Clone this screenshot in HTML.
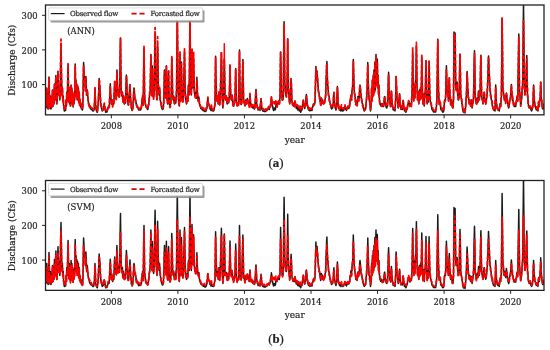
<!DOCTYPE html>
<html><head><meta charset="utf-8"><style>
html,body{margin:0;padding:0;background:#fff;}
body{width:550px;height:350px;overflow:hidden;}
svg{display:block;}
text{fill:#222;stroke:#222;stroke-width:0.2px;}
.tk{font-family:"DejaVu Serif","Liberation Serif",serif;font-size:8.4px;}
.lab{font-family:"DejaVu Serif","Liberation Serif",serif;font-size:9.0px;}
.lg{font-family:"DejaVu Serif","Liberation Serif",serif;font-size:7.0px;letter-spacing:-0.25px;}
.tag{font-family:"DejaVu Serif","Liberation Serif",serif;font-size:8.3px;}
.cap{font-family:"Liberation Serif",serif;font-size:12.8px;}
</style></head><body>
<svg width="550" height="350" viewBox="0 0 550 350">
<g>
<rect x="0" y="0" width="550" height="350" fill="#fff"/>
<clipPath id="c0"><rect x="45.50" y="5.00" width="498.50" height="109.85"/></clipPath>
<g clip-path="url(#c0)" fill="none" stroke-linejoin="round">
<polyline points="45.2,104.0 45.5,94.4 45.7,90.0 46.0,96.2 46.2,107.0 46.5,96.8 46.7,88.0 47.0,96.5 47.2,108.0 47.5,101.6 47.7,95.0 48.0,100.8 48.2,109.0 48.6,92.0 49.0,77.0 49.2,86.7 49.5,100.0 49.8,104.8 50.0,108.5 50.2,103.1 50.5,96.0 50.8,101.8 51.0,109.0 51.2,105.2 51.5,99.0 51.8,102.1 52.0,107.0 52.2,97.7 52.5,90.0 52.8,99.1 53.0,106.0 53.2,96.8 53.5,92.0 53.8,100.2 54.0,104.0 54.2,91.4 54.5,84.0 54.8,91.8 55.0,100.0 55.2,95.3 55.5,88.0 55.9,75.5 56.1,84.0 56.4,98.0 56.6,102.3 56.9,104.0 57.1,100.5 57.4,92.0 57.7,81.4 58.0,71.3 58.3,80.9 58.6,95.0 58.9,88.0 59.2,86.0 59.5,90.6 59.8,100.0 60.0,95.6 60.3,88.0 60.6,67.0 61.0,47.0 61.3,67.0 61.6,82.0 62.0,95.0 62.4,88.0 62.8,100.0 63.2,96.0 63.6,106.0 64.0,108.4 64.3,111.0 64.7,108.9 65.0,108.0 65.3,109.1 65.6,110.5 66.0,100.0 66.4,106.0 66.8,92.0 67.2,100.0 67.6,88.0 67.8,78.0 68.1,65.0 68.5,92.0 68.9,102.0 69.3,88.0 69.7,104.0 70.1,92.0 70.5,106.0 70.9,90.0 71.1,85.0 71.5,100.0 71.9,88.0 72.3,104.0 72.7,92.0 73.1,107.0 73.5,94.0 73.9,104.0 74.3,96.0 74.7,100.0 75.0,84.0 75.2,64.0 75.6,88.0 76.0,80.0 76.4,95.0 76.8,84.0 77.2,100.0 77.6,86.0 78.0,98.0 78.4,88.0 78.8,102.0 79.2,92.0 79.6,104.0 80.0,100.0 80.2,102.0 80.5,107.0 80.8,104.6 81.0,104.0 81.2,106.5 81.5,109.0 81.8,107.8 82.0,108.0 82.2,109.6 82.5,110.0 82.8,106.3 83.0,100.0 83.3,80.2 83.6,62.6 83.9,68.4 84.2,75.0 84.5,77.3 84.8,79.0 85.1,83.2 85.4,90.0 85.7,83.4 85.9,76.4 86.2,83.9 86.6,95.0 86.9,91.3 87.3,90.0 87.7,94.7 88.0,100.0 88.3,101.8 88.5,102.8 88.8,104.0 89.1,104.3 89.3,105.3 89.6,107.0 89.9,106.7 90.2,108.5 90.5,108.5 90.8,108.2 91.2,109.5 91.5,109.5 91.8,109.5 92.2,109.9 92.5,110.5 92.8,110.9 93.2,111.0 93.5,111.0 93.8,110.3 94.0,109.0 94.3,108.0 94.7,99.8 95.0,88.0 95.3,96.1 95.7,108.0 96.0,109.2 96.2,109.5 96.5,111.0 96.8,111.6 97.0,111.8 97.3,112.3 97.6,109.8 97.9,107.2 98.2,104.0 98.5,96.5 98.9,85.3 99.2,78.5 99.5,84.3 99.7,84.6 100.0,90.0 100.3,97.1 100.7,104.0 101.1,106.4 101.4,108.0 101.7,108.5 102.0,110.1 102.3,110.9 102.6,110.4 102.9,109.9 103.2,110.0 103.5,109.1 103.8,107.3 104.0,105.3 104.3,104.4 104.7,106.9 105.0,109.0 105.3,110.1 105.7,112.3 106.0,111.9 106.2,112.0 106.5,112.0 106.8,112.1 107.1,111.5 107.4,110.7 107.6,109.3 107.9,109.0 108.2,108.1 108.6,106.0 108.9,107.4 109.3,107.5 109.6,100.8 110.0,92.1 110.3,83.7 110.6,92.0 110.9,98.0 111.2,99.8 111.4,104.0 111.7,102.9 112.0,100.0 112.3,104.1 112.6,106.0 112.9,104.4 113.2,101.0 113.5,102.0 113.8,104.0 114.1,97.0 114.4,89.8 114.7,81.6 115.0,91.2 115.2,96.0 115.5,92.6 115.7,94.0 116.0,98.4 116.3,99.0 116.6,84.7 116.9,70.0 117.2,80.2 117.6,92.0 117.9,93.7 118.2,96.0 118.5,90.1 118.8,90.0 119.1,91.8 119.4,97.0 119.7,83.2 120.0,68.5 120.2,52.7 120.5,38.0 120.8,66.7 121.2,90.0 121.5,92.9 121.8,96.0 122.1,92.9 122.4,92.0 122.7,98.9 123.0,102.0 123.3,97.8 123.6,96.0 123.9,100.5 124.3,104.0 124.6,102.3 124.9,99.0 125.2,102.3 125.5,103.0 125.8,95.4 126.1,83.6 126.4,75.0 126.8,81.9 127.1,94.0 127.4,94.5 127.7,100.0 128.0,103.3 128.3,105.0 128.6,104.6 128.9,101.0 129.2,96.0 129.4,92.3 129.7,89.9 130.0,84.4 130.3,93.1 130.7,100.0 131.1,103.2 131.4,108.0 131.7,109.1 131.9,109.4 132.2,110.5 132.6,109.0 132.9,108.0 133.2,103.1 133.4,99.2 133.7,90.9 134.0,88.0 134.3,89.1 134.7,96.0 135.1,98.7 135.4,100.0 135.8,100.2 136.1,104.0 136.4,103.3 136.7,104.6 137.0,106.0 137.3,107.0 137.6,106.4 137.9,108.0 138.2,107.9 138.5,110.0 138.8,110.0 139.1,109.6 139.4,109.9 139.7,109.0 140.0,108.9 140.3,109.6 140.6,110.0 140.9,109.1 141.1,108.1 141.4,108.0 141.8,103.5 142.1,100.0 142.3,100.5 142.6,96.0 142.9,101.6 143.2,105.0 143.5,86.0 143.7,67.8 144.0,50.0 144.3,71.6 144.6,96.0 144.9,99.6 145.3,103.0 145.7,105.2 146.0,106.0 146.3,107.1 146.5,107.3 146.8,108.0 147.1,107.5 147.4,109.4 147.6,108.9 147.9,109.4 148.2,107.4 148.5,104.5 148.8,104.0 149.2,98.4 149.5,96.0 149.8,95.2 150.2,90.0 150.6,72.3 150.9,54.4 151.2,71.1 151.5,85.0 151.8,87.9 152.0,95.0 152.4,66.0 152.7,77.0 153.0,90.0 153.3,96.0 153.6,98.0 153.9,94.9 154.3,88.0 154.6,68.7 154.8,49.7 155.1,34.8 155.4,59.2 155.8,80.0 156.1,84.0 156.4,92.0 156.7,97.7 157.0,100.0 157.3,74.0 157.6,45.7 157.9,63.4 158.3,85.0 158.7,87.5 159.0,95.0 159.3,94.1 159.6,88.0 159.9,94.6 160.3,100.0 160.7,102.5 161.0,104.0 161.3,105.9 161.7,108.0 162.0,107.8 162.2,109.1 162.5,109.4 162.8,108.5 163.0,109.0 163.3,108.0 163.7,102.4 164.0,95.0 164.2,79.7 164.5,70.0 164.8,82.6 165.2,90.0 165.5,91.2 165.8,98.0 166.1,79.4 166.4,65.8 166.7,81.7 167.0,100.0 167.3,100.7 167.6,104.0 167.9,91.4 168.3,81.1 168.6,71.0 168.9,88.9 169.3,104.0 169.7,105.0 170.0,106.5 170.3,104.6 170.7,104.0 170.9,99.5 171.2,95.0 171.5,75.9 171.8,58.0 172.2,72.9 172.5,90.0 172.8,97.4 173.2,100.0 173.5,98.3 173.8,96.0 174.2,102.1 174.5,104.0 174.8,102.1 175.2,98.0 175.5,100.8 175.8,103.0 176.1,97.5 176.3,95.5 176.6,90.0 176.9,52.2 177.3,15.0 177.7,51.3 178.0,85.0 178.3,91.9 178.6,100.0 178.9,103.0 179.3,106.0 179.7,77.3 180.0,54.4 180.3,78.6 180.7,100.0 181.1,78.2 181.4,62.0 181.8,79.6 182.1,95.0 182.4,98.9 182.8,102.0 183.2,100.3 183.5,96.0 183.8,80.1 184.2,67.8 184.5,52.0 184.8,70.2 185.2,92.0 185.5,96.2 185.8,100.0 186.2,101.4 186.5,104.0 186.8,103.0 187.2,98.0 187.6,101.3 187.9,100.0 188.2,90.8 188.5,85.0 188.8,90.4 189.2,95.0 189.5,67.3 189.7,44.5 190.0,15.0 190.3,52.5 190.7,85.0 191.0,90.5 191.3,95.0 191.7,73.3 192.0,49.0 192.3,63.1 192.5,74.1 192.8,88.0 193.1,80.9 193.3,71.3 193.6,59.3 193.9,73.6 194.3,90.0 194.7,94.5 195.0,96.0 195.3,92.6 195.7,95.0 196.1,98.3 196.4,98.0 196.7,88.0 196.9,77.3 197.2,89.4 197.6,96.0 197.9,97.3 198.3,100.0 198.6,99.1 198.9,97.0 199.2,99.7 199.5,104.0 199.8,105.8 200.2,106.0 200.5,106.9 200.7,108.4 201.0,108.0 201.3,107.6 201.7,108.4 202.0,109.5 202.3,109.2 202.7,109.7 203.0,110.5 203.3,110.8 203.7,110.7 204.0,110.0 204.3,110.5 204.7,111.4 205.0,111.5 205.3,111.6 205.7,111.4 206.0,111.0 206.3,110.3 206.7,108.5 207.0,108.0 207.3,104.8 207.6,101.0 207.9,98.0 208.2,102.9 208.5,104.0 208.8,104.1 209.2,106.0 209.5,106.3 209.7,108.3 210.0,109.0 210.3,109.0 210.7,109.5 211.0,110.5 211.4,106.6 211.7,108.3 212.0,110.0 212.3,110.7 212.7,110.8 213.0,111.0 213.3,111.1 213.7,110.4 214.0,110.5 214.3,107.9 214.7,106.0 215.0,104.0 215.3,83.1 215.6,56.3 215.9,74.5 216.3,90.0 216.7,97.7 217.0,100.0 217.3,98.2 217.7,96.0 218.0,100.2 218.3,104.0 218.7,100.5 219.0,92.0 219.3,97.0 219.7,105.0 220.0,101.3 220.3,95.0 220.6,86.2 220.9,76.0 221.1,64.9 221.4,52.8 221.7,65.1 221.9,82.6 222.2,96.0 222.6,103.6 222.9,108.0 223.2,104.2 223.6,100.0 223.9,78.4 224.3,58.5 224.7,79.4 225.0,95.0 225.3,97.8 225.7,100.0 226.1,98.1 226.4,97.0 226.8,101.0 227.1,104.0 227.4,102.3 227.8,98.0 228.1,98.4 228.3,99.4 228.6,103.0 228.9,100.1 229.3,97.0 229.7,83.9 230.0,65.6 230.3,81.9 230.7,96.0 231.1,98.7 231.4,100.0 231.8,98.2 232.1,95.0 232.4,98.0 232.6,102.0 232.9,104.0 233.2,104.3 233.6,106.0 233.9,105.3 234.3,102.0 234.7,100.1 235.0,100.0 235.3,86.9 235.7,68.4 236.1,87.8 236.4,102.0 236.8,102.6 237.1,106.0 237.4,104.9 237.6,104.8 237.9,103.0 238.2,103.3 238.6,104.0 238.9,86.0 239.2,69.8 239.5,49.9 239.8,76.2 240.2,100.0 240.5,103.2 240.7,101.4 241.0,104.0 241.3,104.5 241.7,102.0 242.0,93.9 242.3,81.5 242.6,72.7 242.9,59.4 243.2,78.2 243.6,100.0 243.9,103.0 244.3,103.0 244.7,105.3 245.0,106.0 245.3,103.4 245.7,100.0 246.1,100.4 246.4,104.0 246.7,100.8 247.0,101.0 247.3,98.6 247.6,99.2 247.9,100.0 248.2,103.0 248.6,104.0 248.9,104.7 249.3,106.0 249.7,101.4 250.0,94.4 250.3,99.8 250.7,104.0 251.1,104.7 251.4,106.0 251.8,106.5 252.1,105.0 252.4,104.8 252.6,106.9 252.9,108.0 253.2,107.7 253.6,106.0 253.9,106.7 254.3,109.0 254.7,108.4 255.0,107.0 255.3,100.4 255.7,92.4 256.0,89.4 256.4,96.6 256.7,104.0 257.0,106.1 257.4,108.0 257.8,108.3 258.1,110.0 258.4,109.9 258.7,109.5 259.0,109.5 259.3,109.2 259.7,109.8 260.0,110.5 260.3,105.6 260.7,102.8 261.0,98.7 261.4,101.8 261.7,108.0 262.0,109.7 262.4,110.0 262.7,110.7 262.9,111.1 263.2,111.0 263.5,110.6 263.7,111.1 264.0,110.5 264.3,111.4 264.7,111.5 265.0,111.6 265.3,111.2 265.7,111.4 266.0,111.0 266.3,110.9 266.7,110.6 267.0,110.5 267.3,109.8 267.7,108.9 268.0,109.0 268.3,107.8 268.6,108.0 269.0,108.1 269.3,109.5 269.6,108.2 270.0,107.0 270.4,105.9 270.7,104.0 271.0,101.8 271.4,97.3 271.8,99.3 272.1,105.0 272.4,106.8 272.6,106.0 272.9,108.0 273.2,109.3 273.6,110.5 274.0,109.6 274.3,108.0 274.6,109.2 275.0,110.0 275.4,109.3 275.7,107.0 276.0,105.1 276.4,104.0 276.8,105.2 277.1,106.0 277.4,103.8 277.6,104.2 277.9,103.0 278.2,103.2 278.6,100.9 279.0,101.3 279.3,104.0 279.6,100.0 280.0,98.0 280.3,76.2 280.6,52.0 281.0,69.5 281.3,90.0 281.6,91.6 281.9,96.0 282.2,100.2 282.6,100.0 283.0,99.7 283.3,94.0 283.6,67.8 283.8,48.2 284.1,21.7 284.5,53.7 284.8,85.0 285.1,85.1 285.4,91.3 285.7,93.7 286.0,95.7 286.4,96.0 286.7,90.2 287.0,90.0 287.4,65.9 287.7,38.8 288.0,65.3 288.4,88.0 288.7,90.4 289.0,98.0 289.4,101.6 289.7,104.0 290.0,101.8 290.3,100.0 290.6,91.3 290.8,85.6 291.1,78.7 291.5,87.3 291.8,100.0 292.1,101.4 292.5,104.0 292.9,105.4 293.2,106.0 293.5,104.4 293.9,103.0 294.2,104.7 294.5,106.0 294.8,103.6 295.0,100.9 295.4,104.5 295.7,106.0 296.0,107.0 296.4,108.6 296.8,108.0 297.1,106.0 297.4,106.4 297.6,108.5 297.9,110.0 298.2,108.2 298.6,107.0 299.0,108.9 299.3,111.0 299.6,110.0 300.0,108.0 300.4,110.2 300.7,112.3 301.0,111.2 301.4,109.0 301.7,110.0 302.0,110.0 302.3,106.7 302.6,105.0 303.0,101.8 303.3,100.0 303.6,101.3 304.0,106.0 304.4,107.8 304.7,108.6 305.0,106.3 305.4,106.0 305.7,103.6 306.1,96.7 306.4,94.4 306.8,98.8 307.1,104.0 307.4,104.1 307.6,106.2 307.9,108.0 308.2,108.8 308.6,110.0 309.0,108.6 309.3,108.6 309.6,110.1 310.0,110.9 310.3,110.7 310.7,109.8 311.0,109.5 311.3,110.3 311.7,109.6 312.0,110.5 312.3,108.3 312.6,107.2 312.9,106.0 313.2,106.0 313.6,103.7 314.0,105.1 314.3,105.0 314.6,104.1 315.0,102.0 315.3,90.6 315.6,80.2 315.9,66.6 316.2,72.8 316.6,80.0 316.9,72.7 317.1,71.0 317.4,77.5 317.6,78.5 317.9,85.0 318.2,87.8 318.6,92.0 319.0,93.1 319.3,96.0 319.6,96.1 320.0,100.0 320.4,102.0 320.7,105.0 321.0,100.2 321.4,98.0 321.8,101.0 322.1,103.0 322.4,102.9 322.6,99.7 322.9,101.0 323.2,102.3 323.6,104.0 324.0,103.7 324.3,103.0 324.6,103.0 325.0,100.0 325.4,97.5 325.7,95.0 326.0,82.5 326.4,75.0 326.6,65.6 326.9,61.6 327.2,74.0 327.5,82.0 327.9,87.7 328.2,90.0 328.5,95.2 328.9,96.0 329.2,96.8 329.6,100.0 330.0,102.6 330.3,104.0 330.6,104.4 331.0,107.0 331.4,108.6 331.7,109.0 332.0,108.2 332.4,108.0 332.7,108.0 332.9,105.9 333.2,105.0 333.5,96.4 333.9,92.3 334.2,100.2 334.6,104.0 335.0,106.3 335.3,108.0 335.6,108.7 336.0,110.0 336.4,107.1 336.7,106.0 337.0,95.6 337.4,86.6 337.8,93.2 338.1,104.0 338.5,106.1 338.8,108.0 339.1,108.4 339.5,110.0 339.9,109.0 340.2,109.0 340.5,110.3 340.7,110.5 341.0,111.0 341.2,108.8 341.5,107.3 341.9,109.3 342.2,110.0 342.5,110.4 342.7,111.1 343.0,110.9 343.3,110.2 343.7,110.2 344.0,109.0 344.3,108.5 344.7,106.4 345.0,106.6 345.4,107.6 345.7,109.5 346.0,109.5 346.2,109.8 346.5,110.5 346.8,109.3 347.2,108.4 347.5,108.0 347.8,107.8 348.0,105.9 348.3,106.7 348.5,108.5 348.8,108.6 349.1,107.1 349.5,107.0 349.8,104.9 350.0,100.5 350.3,100.0 350.6,99.8 351.0,95.0 351.2,94.9 351.5,100.0 351.8,94.3 352.1,90.0 352.4,89.3 352.7,85.0 353.0,75.2 353.3,59.5 353.6,69.4 354.0,85.0 354.3,91.4 354.6,94.0 354.9,96.1 355.2,98.0 355.5,99.1 355.8,104.0 356.1,103.5 356.4,101.0 356.8,101.6 357.1,105.0 357.4,102.6 357.6,100.7 357.9,96.6 358.2,99.6 358.6,101.0 359.0,98.4 359.3,97.0 359.6,88.2 360.0,85.1 360.4,88.2 360.7,92.0 361.0,97.5 361.4,98.0 361.8,99.8 362.1,103.0 362.4,103.2 362.6,104.0 362.9,106.0 363.2,107.7 363.6,109.4 364.0,110.2 364.3,110.9 364.6,110.0 365.0,110.0 365.4,109.4 365.7,109.0 366.0,105.0 366.4,100.0 366.8,97.8 367.1,90.0 367.5,75.8 367.8,62.5 368.1,75.9 368.5,90.0 368.9,94.8 369.2,100.0 369.5,100.9 369.9,104.0 370.2,107.2 370.5,110.9 370.9,107.8 371.2,104.0 371.6,88.0 372.0,100.0 372.4,80.0 372.8,97.0 373.2,75.0 373.6,95.0 374.0,70.0 374.2,80.4 374.5,92.0 374.9,62.0 375.3,90.0 375.7,68.0 376.0,54.4 376.4,85.0 376.8,65.0 377.1,62.5 377.3,59.0 377.7,88.0 378.1,75.0 378.4,87.0 378.6,95.0 379.0,85.0 379.2,95.5 379.5,100.0 379.8,103.5 380.0,104.0 380.4,104.5 380.7,105.7 381.0,103.4 381.4,104.0 381.7,105.6 382.0,106.6 382.3,106.0 382.5,104.8 382.8,105.0 383.1,104.3 383.3,105.6 383.6,106.6 383.9,105.0 384.1,103.4 384.4,97.2 384.7,96.6 385.0,102.0 385.4,104.0 385.8,104.3 386.1,107.0 386.5,107.9 386.8,108.0 387.1,105.9 387.5,106.0 387.8,97.2 388.1,91.4 388.3,80.1 388.6,72.3 389.0,87.2 389.3,97.0 389.6,101.4 390.0,104.0 390.4,105.6 390.7,106.6 391.0,97.1 391.4,90.9 391.8,96.6 392.1,104.0 392.4,105.1 392.6,106.9 392.9,108.0 393.2,109.8 393.6,110.0 394.0,109.2 394.3,109.0 394.6,110.0 395.0,110.9 395.3,106.6 395.6,100.0 395.9,87.4 396.1,76.6 396.5,86.1 396.8,94.0 397.1,98.4 397.5,100.0 397.9,104.4 398.2,108.0 398.5,106.6 398.9,104.0 399.2,97.4 399.6,93.7 400.0,101.9 400.3,106.0 400.6,107.0 401.0,109.4 401.4,108.8 401.7,108.0 402.0,108.4 402.4,109.4 402.8,105.5 403.1,100.9 403.5,102.7 403.8,106.0 404.1,108.3 404.5,110.9 404.9,110.2 405.2,109.0 405.5,110.4 405.9,112.3 406.2,111.4 406.6,110.0 407.0,109.3 407.3,109.0 407.6,105.6 407.9,104.0 408.2,103.2 408.6,101.6 409.0,101.6 409.3,104.0 409.6,105.1 410.0,106.6 410.4,105.0 410.7,104.0 411.0,103.2 411.4,105.0 411.7,100.9 412.0,95.0 412.4,75.1 412.7,53.0 413.0,72.2 413.3,88.0 413.6,94.3 413.8,100.0 414.1,92.8 414.3,85.0 414.6,89.5 414.9,98.0 415.2,88.2 415.5,82.0 415.8,76.9 416.0,75.0 416.4,46.2 416.7,65.8 417.0,85.0 417.3,94.4 417.6,100.0 417.9,95.2 418.2,92.0 418.5,100.0 418.8,104.0 419.1,98.3 419.4,90.0 419.7,96.3 420.0,100.0 420.3,93.0 420.6,88.0 420.9,90.7 421.2,98.0 421.5,80.5 421.8,57.5 422.1,76.9 422.4,92.0 422.7,97.5 423.0,104.0 423.3,100.7 423.6,94.0 423.9,101.8 424.2,106.0 424.5,100.3 424.8,96.0 425.1,93.0 425.4,90.0 425.7,74.5 426.0,61.1 426.3,77.7 426.6,92.0 426.9,100.1 427.2,104.0 427.5,101.7 427.8,95.0 428.1,99.7 428.4,102.0 428.8,80.5 429.1,61.3 429.4,78.9 429.7,92.0 429.9,98.8 430.2,100.0 430.6,103.0 431.0,104.0 431.4,105.6 431.7,108.0 432.0,109.7 432.4,110.0 432.8,110.5 433.1,111.0 433.4,111.7 433.7,112.1 434.0,112.0 434.3,112.1 434.7,111.8 435.0,111.5 435.4,111.5 435.7,112.0 436.0,109.4 436.3,108.0 436.6,104.3 436.9,100.0 437.2,81.0 437.5,62.1 437.8,39.3 438.1,64.8 438.5,90.0 438.9,98.1 439.2,104.0 439.5,103.8 439.7,101.6 440.0,102.0 440.4,105.4 440.7,108.0 441.0,109.8 441.4,110.0 441.8,110.1 442.1,111.0 442.4,111.6 442.6,112.0 442.9,112.3 443.2,111.9 443.6,111.6 444.0,108.4 444.3,104.0 444.6,100.1 445.0,100.0 445.4,100.0 445.7,96.0 446.0,82.8 446.4,65.7 446.8,78.7 447.1,92.0 447.5,90.6 447.8,94.0 448.1,96.7 448.5,100.0 448.8,93.2 449.0,83.9 449.3,78.0 449.6,86.9 450.0,96.0 450.4,101.2 450.7,104.0 451.0,103.6 451.4,100.0 451.8,103.2 452.1,106.0 452.4,107.4 452.6,106.4 452.9,108.0 453.2,105.1 453.5,100.0 453.8,68.5 454.0,32.0 454.3,34.0 454.6,40.0 454.9,38.5 455.1,33.0 455.4,61.1 455.7,85.0 456.0,89.8 456.4,90.0 456.8,86.1 457.1,82.0 457.5,89.6 457.8,96.0 458.1,95.8 458.3,99.7 458.6,100.0 459.0,97.0 459.3,95.0 459.6,71.6 460.0,53.9 460.4,72.8 460.7,96.0 461.0,97.4 461.4,100.0 461.8,103.5 462.1,104.0 462.4,106.2 462.6,108.8 462.9,110.0 463.2,111.6 463.6,112.5 464.0,111.4 464.3,111.0 464.6,112.1 465.0,113.0 465.4,109.3 465.7,106.0 466.0,101.0 466.4,96.0 466.8,83.5 467.1,71.6 467.5,80.7 467.8,90.0 468.1,90.3 468.3,97.3 468.6,98.0 469.0,101.0 469.3,104.0 469.6,102.6 470.0,100.0 470.4,102.9 470.7,106.0 471.0,102.4 471.4,101.0 471.8,104.6 472.1,108.0 472.4,105.1 472.6,105.1 472.9,102.0 473.2,100.6 473.6,96.0 473.9,78.8 474.2,63.3 474.5,50.8 474.9,70.8 475.2,96.0 475.5,97.5 475.9,100.0 476.2,103.7 476.6,104.0 477.0,101.2 477.3,98.0 477.6,98.9 478.0,102.0 478.3,94.9 478.6,90.9 479.0,93.1 479.3,100.0 479.6,96.2 480.0,96.0 480.3,84.3 480.6,66.7 480.9,55.3 481.2,76.8 481.6,94.0 482.0,98.8 482.3,100.0 482.6,100.6 483.0,104.0 483.3,101.2 483.6,98.0 484.0,92.2 484.3,92.3 484.6,98.2 485.0,100.0 485.4,102.1 485.7,103.7 486.0,102.8 486.4,100.0 486.8,96.9 487.1,94.0 487.5,88.1 487.8,80.0 488.1,70.5 488.5,55.9 488.8,62.6 489.0,70.9 489.3,75.0 489.6,81.6 490.0,90.0 490.4,90.6 490.7,96.0 491.0,95.5 491.4,100.0 491.8,101.0 492.1,104.0 492.4,106.3 492.6,106.2 492.9,108.0 493.2,108.6 493.6,110.0 494.0,109.5 494.3,109.0 494.6,110.5 495.0,110.9 495.4,98.0 495.7,85.1 496.0,93.6 496.4,104.0 496.8,105.3 497.1,108.6 497.4,109.2 497.6,109.1 497.9,110.0 498.2,109.5 498.6,109.4 499.0,110.0 499.3,110.9 499.6,107.9 500.0,103.7 500.4,104.1 500.7,106.0 501.0,102.8 501.4,96.0 501.8,58.4 502.1,17.9 502.5,51.3 502.8,85.0 503.1,90.3 503.3,90.2 503.6,94.0 504.0,96.4 504.3,100.0 504.6,96.1 505.0,96.0 505.4,100.3 505.7,102.0 506.0,97.0 506.4,93.0 506.8,96.5 507.1,100.0 507.4,101.2 507.6,103.2 507.9,104.0 508.2,105.7 508.6,108.0 509.0,107.1 509.3,104.0 509.6,101.7 510.0,100.0 510.4,97.3 510.7,96.0 511.0,89.6 511.4,84.4 511.8,91.8 512.1,96.0 512.4,100.0 512.6,100.5 512.9,100.0 513.2,102.4 513.6,105.0 514.0,105.3 514.3,106.6 514.6,105.1 515.0,104.0 515.4,104.9 515.7,106.6 516.0,103.5 516.4,102.0 516.8,97.8 517.1,96.6 517.5,100.6 517.8,100.0 518.1,78.0 518.5,53.6 518.8,33.9 519.1,61.3 519.5,90.0 519.8,93.3 520.1,98.0 520.4,101.6 520.7,105.0 521.0,104.3 521.4,100.0 521.8,97.9 522.1,90.0 522.5,85.4 522.8,80.0 523.1,41.7 523.5,2.0 523.9,42.1 524.2,80.0 524.5,87.5 524.9,95.0 525.2,93.3 525.4,90.6 525.7,90.0 526.0,82.5 526.2,70.4 526.5,63.1 526.8,55.6 527.1,77.6 527.5,95.0 527.9,97.7 528.2,103.0 528.5,105.9 528.9,106.0 529.2,108.1 529.6,108.0 530.0,107.7 530.3,107.0 530.6,107.7 531.0,110.0 531.4,110.0 531.7,110.9 532.0,109.6 532.4,109.0 532.7,106.6 533.0,105.0 533.3,92.7 533.6,85.1 534.0,94.3 534.3,100.0 534.6,102.5 535.0,106.0 535.4,106.7 535.7,108.6 536.0,108.6 536.4,110.0 536.8,109.3 537.1,109.0 537.4,108.9 537.6,109.8 537.9,110.9 538.2,106.8 538.6,102.3 539.0,105.5 539.3,106.0 539.6,101.9 540.0,100.0 540.4,92.6 540.7,82.3 541.0,89.3 541.4,100.0 541.8,101.6 542.1,106.6 542.5,108.6 542.8,109.0 543.1,109.0 543.3,106.8 543.6,107.0 544.0,105.2 544.3,105.0" stroke="#1a1a1a" stroke-width="1.50"/>
<polyline points="45.2,102.9 45.5,97.6 45.7,91.8 46.0,100.5 46.2,106.1 46.5,99.9 46.7,88.8 47.0,97.0 47.2,106.3 47.5,101.9 47.7,96.4 48.0,101.8 48.2,108.6 48.6,93.0 49.0,78.0 49.2,88.2 49.5,100.8 49.8,104.0 50.0,107.2 50.2,102.5 50.5,97.1 50.8,102.1 51.0,106.6 51.2,105.2 51.5,100.6 51.8,102.5 52.0,106.6 52.2,99.4 52.5,90.8 52.8,101.4 53.0,107.3 53.2,100.9 53.5,92.3 53.8,98.1 54.0,103.1 54.2,93.1 54.5,84.7 54.8,91.1 55.0,98.6 55.2,95.5 55.5,87.2 55.9,76.6 56.1,89.7 56.4,98.0 56.6,101.3 56.9,103.2 57.1,99.3 57.4,91.2 57.7,84.1 58.0,71.9 58.3,85.5 58.6,94.9 58.9,89.9 59.2,86.2 59.5,92.2 59.8,98.6 60.0,95.6 60.3,89.0 60.6,63.3 61.0,39.1 61.3,62.1 61.6,82.2 62.0,95.4 62.4,87.9 62.8,101.5 63.2,97.6 63.6,104.9 64.0,106.9 64.3,109.1 64.7,107.0 65.0,105.6 65.3,106.9 65.6,108.4 66.0,100.5 66.4,105.4 66.8,92.9 67.2,101.1 67.6,89.0 67.8,74.0 68.1,63.6 68.5,92.0 68.9,102.3 69.3,87.4 69.7,103.2 70.1,93.5 70.5,105.7 70.9,89.0 71.1,86.1 71.5,100.6 71.9,89.3 72.3,103.6 72.7,92.5 73.1,105.0 73.5,94.6 73.9,103.7 74.3,96.4 74.7,98.6 75.0,81.4 75.2,66.0 75.6,86.6 76.0,81.7 76.4,96.4 76.8,85.2 77.2,99.7 77.6,85.9 78.0,98.0 78.4,90.2 78.8,102.8 79.2,92.8 79.6,105.1 80.0,99.2 80.2,101.6 80.5,104.6 80.8,102.9 81.0,104.2 81.2,105.3 81.5,108.1 81.8,106.3 82.0,105.6 82.2,107.6 82.5,108.0 82.8,104.7 83.0,101.0 83.3,82.0 83.6,65.5 83.9,73.8 84.2,76.2 84.5,76.5 84.8,79.7 85.1,85.4 85.4,90.9 85.7,85.8 85.9,77.7 86.2,87.6 86.6,95.2 86.9,92.4 87.3,90.5 87.7,96.2 88.0,98.7 88.3,100.8 88.5,103.7 88.8,105.1 89.1,105.5 89.3,107.1 89.6,106.3 89.9,107.1 90.2,105.9 90.5,107.1 90.8,106.8 91.2,108.9 91.5,108.4 91.8,108.1 92.2,107.9 92.5,108.8 92.8,108.7 93.2,109.4 93.5,109.7 93.8,109.6 94.0,107.8 94.3,107.2 94.7,98.7 95.0,87.8 95.3,98.7 95.7,105.8 96.0,105.9 96.2,108.1 96.5,108.9 96.8,110.4 97.0,110.7 97.3,111.4 97.6,109.4 97.9,106.8 98.2,105.0 98.5,99.2 98.9,91.3 99.2,80.2 99.5,80.7 99.7,86.2 100.0,88.7 100.3,95.2 100.7,102.6 101.1,104.8 101.4,106.0 101.7,106.7 102.0,108.5 102.3,110.4 102.6,109.6 102.9,109.4 103.2,108.9 103.5,108.1 103.8,106.9 104.0,105.4 104.3,103.1 104.7,105.8 105.0,107.5 105.3,108.9 105.7,111.4 106.0,111.1 106.2,111.1 106.5,110.7 106.8,110.2 107.1,110.2 107.4,109.4 107.6,109.3 107.9,107.8 108.2,105.9 108.6,105.8 108.9,107.2 109.3,107.0 109.6,98.2 110.0,92.2 110.3,85.9 110.6,94.4 110.9,98.0 111.2,99.3 111.4,103.1 111.7,101.8 112.0,100.3 112.3,103.4 112.6,107.0 112.9,104.6 113.2,99.6 113.5,103.1 113.8,102.6 114.1,94.3 114.4,88.5 114.7,81.6 115.0,91.5 115.2,96.7 115.5,95.4 115.7,93.5 116.0,95.0 116.3,99.6 116.6,87.4 116.9,72.1 117.2,81.1 117.6,92.1 117.9,93.6 118.2,95.2 118.5,90.7 118.8,92.1 119.1,98.0 119.4,97.9 119.7,84.0 120.0,70.8 120.2,56.2 120.5,38.5 120.8,62.9 121.2,90.0 121.5,92.9 121.8,95.2 122.1,93.8 122.4,93.1 122.7,98.8 123.0,101.7 123.3,100.8 123.6,96.7 123.9,98.9 124.3,103.5 124.6,100.7 124.9,99.8 125.2,101.6 125.5,101.7 125.8,92.5 126.1,82.2 126.4,75.7 126.8,83.7 127.1,95.4 127.4,98.6 127.7,101.1 128.0,103.1 128.3,104.4 128.6,104.8 128.9,102.1 129.2,97.9 129.4,94.1 129.7,87.0 130.0,84.8 130.3,92.5 130.7,101.3 131.1,103.4 131.4,106.8 131.7,108.3 131.9,108.7 132.2,110.2 132.6,108.4 132.9,107.6 133.2,102.7 133.4,98.5 133.7,93.3 134.0,89.8 134.3,94.2 134.7,97.4 135.1,97.2 135.4,100.2 135.8,103.1 136.1,103.0 136.4,105.0 136.7,105.8 137.0,107.1 137.3,105.8 137.6,106.0 137.9,106.2 138.2,107.5 138.5,108.2 138.8,108.9 139.1,109.2 139.4,109.1 139.7,108.2 140.0,108.1 140.3,108.6 140.6,108.7 140.9,108.0 141.1,107.2 141.4,107.5 141.8,102.8 142.1,100.5 142.3,97.0 142.6,95.9 142.9,98.6 143.2,105.0 143.5,85.7 143.7,67.2 144.0,46.4 144.3,71.3 144.6,95.5 144.9,100.6 145.3,104.1 145.7,104.9 146.0,107.2 146.3,106.6 146.5,107.4 146.8,107.3 147.1,108.0 147.4,106.9 147.6,105.9 147.9,106.9 148.2,105.0 148.5,105.0 148.8,104.8 149.2,100.7 149.5,95.5 149.8,89.8 150.2,89.1 150.6,70.7 150.9,55.6 151.2,71.6 151.5,85.5 151.8,93.7 152.0,96.0 152.4,69.0 152.7,78.3 153.0,89.5 153.3,94.9 153.6,99.1 153.9,94.0 154.3,88.6 154.6,65.4 154.8,46.9 155.1,27.6 155.4,51.6 155.8,80.0 156.1,85.2 156.4,93.5 156.7,97.9 157.0,99.2 157.3,69.0 157.6,36.7 157.9,58.4 158.3,85.7 158.7,87.2 159.0,93.8 159.3,92.1 159.6,87.8 159.9,92.1 160.3,101.2 160.7,101.5 161.0,103.1 161.3,104.1 161.7,106.4 162.0,106.0 162.2,106.7 162.5,108.3 162.8,107.2 163.0,107.3 163.3,107.1 163.7,103.3 164.0,96.1 164.2,84.8 164.5,71.8 164.8,80.0 165.2,91.4 165.5,96.3 165.8,99.2 166.1,81.4 166.4,66.4 166.7,83.4 167.0,100.2 167.3,100.8 167.6,102.8 167.9,94.9 168.3,80.8 168.6,71.1 168.9,88.7 169.3,102.7 169.7,105.6 170.0,107.6 170.3,107.1 170.7,104.9 170.9,100.9 171.2,96.0 171.5,78.6 171.8,56.7 172.2,72.5 172.5,89.5 172.8,96.0 173.2,100.3 173.5,99.4 173.8,97.3 174.2,100.6 174.5,103.6 174.8,101.4 175.2,98.6 175.5,100.5 175.8,102.2 176.1,97.1 176.3,95.6 176.6,88.7 176.9,56.2 177.3,22.0 177.7,53.4 178.0,84.3 178.3,90.1 178.6,101.2 178.9,103.7 179.3,106.2 179.7,76.5 180.0,50.7 180.3,74.3 180.7,101.3 181.1,82.1 181.4,63.7 181.8,79.3 182.1,94.3 182.4,97.4 182.8,102.9 183.2,98.9 183.5,97.0 183.8,81.1 184.2,64.8 184.5,48.9 184.8,69.1 185.2,90.5 185.5,93.2 185.8,100.5 186.2,101.1 186.5,102.8 186.8,100.7 187.2,97.2 187.6,99.4 187.9,101.2 188.2,93.1 188.5,84.5 188.8,91.4 189.2,94.2 189.5,71.0 189.7,46.1 190.0,20.4 190.3,50.6 190.7,86.5 191.0,89.5 191.3,94.8 191.7,73.4 192.0,49.8 192.3,60.1 192.5,77.0 192.8,86.8 193.1,72.9 193.3,65.6 193.6,51.6 193.9,68.6 194.3,89.0 194.7,94.2 195.0,95.2 195.3,97.8 195.7,96.3 196.1,95.6 196.4,96.8 196.7,90.6 196.9,79.8 197.2,85.7 197.6,95.6 197.9,100.3 198.3,101.4 198.6,99.5 198.9,98.7 199.2,100.8 199.5,103.4 199.8,103.1 200.2,105.3 200.5,106.3 200.7,106.2 201.0,107.5 201.3,108.3 201.7,109.1 202.0,109.1 202.3,108.9 202.7,107.5 203.0,108.0 203.3,109.0 203.7,109.0 204.0,108.4 204.3,109.3 204.7,109.6 205.0,110.5 205.3,110.0 205.7,109.9 206.0,108.7 206.3,107.6 206.7,107.3 207.0,105.6 207.3,103.1 207.6,99.7 207.9,97.2 208.2,102.1 208.5,103.1 208.8,104.5 209.2,106.4 209.5,107.0 209.7,106.1 210.0,107.5 210.3,107.9 210.7,107.5 211.0,108.7 211.4,105.1 211.7,107.6 212.0,109.2 212.3,108.7 212.7,109.2 213.0,110.1 213.3,109.3 213.7,109.0 214.0,109.2 214.3,107.6 214.7,105.7 215.0,104.5 215.3,79.9 215.6,58.0 215.9,77.1 216.3,90.4 216.7,98.2 217.0,101.3 217.3,99.5 217.7,96.2 218.0,101.2 218.3,103.4 218.7,99.4 219.0,92.1 219.3,97.0 219.7,104.5 220.0,101.6 220.3,96.0 220.6,83.4 220.9,74.3 221.1,62.1 221.4,51.9 221.7,64.9 221.9,83.7 222.2,97.2 222.6,103.7 222.9,107.0 223.2,102.9 223.6,100.1 223.9,82.7 224.3,60.7 224.7,77.1 225.0,95.3 225.3,98.1 225.7,99.2 226.1,100.2 226.4,96.0 226.8,100.9 227.1,103.2 227.4,98.2 227.8,97.1 228.1,98.8 228.3,100.6 228.6,103.2 228.9,98.5 229.3,95.7 229.7,82.3 230.0,65.0 230.3,79.5 230.7,94.7 231.1,98.6 231.4,100.4 231.8,98.4 232.1,94.9 232.4,98.3 232.6,99.8 232.9,104.9 233.2,105.9 233.6,106.0 233.9,105.7 234.3,103.1 234.7,99.7 235.0,99.0 235.3,85.0 235.7,69.3 236.1,85.6 236.4,102.0 236.8,104.0 237.1,106.9 237.4,105.8 237.6,105.1 237.9,101.7 238.2,101.9 238.6,105.3 238.9,89.9 239.2,69.1 239.5,52.0 239.8,77.5 240.2,99.0 240.5,99.6 240.7,103.7 241.0,104.8 241.3,102.9 241.7,103.5 242.0,92.1 242.3,85.5 242.6,73.3 242.9,62.0 243.2,83.2 243.6,101.0 243.9,101.6 244.3,102.5 244.7,103.5 245.0,104.8 245.3,102.4 245.7,100.0 246.1,103.6 246.4,105.3 246.7,103.6 247.0,100.4 247.3,99.3 247.6,100.7 247.9,101.2 248.2,102.2 248.6,102.9 248.9,105.3 249.3,107.2 249.7,102.2 250.0,93.5 250.3,100.2 250.7,103.4 251.1,104.4 251.4,107.2 251.8,106.3 252.1,105.9 252.4,104.9 252.6,104.6 252.9,105.9 253.2,105.2 253.6,106.7 253.9,106.9 254.3,108.3 254.7,107.9 255.0,106.4 255.3,101.9 255.7,97.7 256.0,90.8 256.4,96.5 256.7,104.5 257.0,105.2 257.4,107.6 257.8,108.7 258.1,107.9 258.4,108.6 258.7,108.8 259.0,108.0 259.3,107.5 259.7,108.6 260.0,109.2 260.3,106.1 260.7,103.1 261.0,98.8 261.4,104.4 261.7,107.1 262.0,107.8 262.4,108.3 262.7,108.5 262.9,108.3 263.2,109.4 263.5,109.9 263.7,110.1 264.0,109.4 264.3,110.5 264.7,110.7 265.0,111.0 265.3,110.1 265.7,109.2 266.0,108.9 266.3,109.5 266.7,109.8 267.0,109.3 267.3,109.7 267.7,108.0 268.0,108.2 268.3,107.5 268.6,106.5 269.0,107.2 269.3,107.8 269.6,106.3 270.0,105.2 270.4,105.8 270.7,104.7 271.0,102.7 271.4,96.9 271.8,101.9 272.1,105.0 272.4,104.6 272.6,103.7 272.9,102.0 273.2,103.8 273.6,104.5 274.0,103.4 274.3,102.0 274.6,102.1 275.0,104.0 275.4,103.5 275.7,101.0 276.0,101.1 276.4,104.0 276.8,106.0 277.1,107.1 277.4,105.1 277.6,103.9 277.9,102.0 278.2,102.4 278.6,101.7 279.0,103.4 279.3,105.1 279.6,103.2 280.0,97.4 280.3,73.4 280.6,52.5 281.0,68.6 281.3,90.6 281.6,96.5 281.9,97.0 282.2,97.4 282.6,99.6 283.0,95.9 283.3,94.6 283.6,70.7 283.8,48.4 284.1,24.4 284.5,58.0 284.8,85.7 285.1,89.7 285.4,90.1 285.7,94.0 286.0,95.7 286.4,97.1 286.7,93.8 287.0,91.2 287.4,65.3 287.7,39.3 288.0,63.8 288.4,89.4 288.7,91.8 289.0,98.2 289.4,100.2 289.7,103.0 290.0,100.7 290.3,99.3 290.6,90.7 290.8,87.7 291.1,79.0 291.5,88.8 291.8,100.2 292.1,101.2 292.5,104.8 292.9,104.9 293.2,104.7 293.5,105.2 293.9,103.5 294.2,105.9 294.5,106.7 294.8,104.0 295.0,100.4 295.4,104.0 295.7,106.0 296.0,106.0 296.4,106.7 296.8,104.7 297.1,104.6 297.4,105.1 297.6,106.5 297.9,107.9 298.2,106.5 298.6,106.1 299.0,107.3 299.3,108.6 299.6,106.5 300.0,106.0 300.4,107.6 300.7,110.5 301.0,108.7 301.4,107.7 301.7,107.0 302.0,107.6 302.3,106.9 302.6,104.6 303.0,102.9 303.3,100.9 303.6,102.3 304.0,105.8 304.4,106.5 304.7,107.6 305.0,107.2 305.4,104.9 305.7,102.3 306.1,99.3 306.4,96.2 306.8,100.3 307.1,105.4 307.4,104.9 307.6,106.4 307.9,106.4 308.2,107.1 308.6,109.4 309.0,109.1 309.3,107.8 309.6,108.5 310.0,110.6 310.3,110.1 310.7,108.8 311.0,108.2 311.3,108.8 311.7,108.8 312.0,108.8 312.3,107.3 312.6,107.2 312.9,106.3 313.2,104.4 313.6,104.7 314.0,103.6 314.3,104.1 314.6,102.3 315.0,101.4 315.3,89.1 315.6,80.3 315.9,68.4 316.2,76.8 316.6,79.3 316.9,75.2 317.1,72.7 317.4,78.6 317.6,78.8 317.9,84.3 318.2,89.7 318.6,92.6 319.0,93.8 319.3,96.9 319.6,99.1 320.0,100.9 320.4,102.3 320.7,106.4 321.0,103.7 321.4,98.5 321.8,99.5 322.1,103.0 322.4,102.5 322.6,101.6 322.9,102.1 323.2,104.5 323.6,104.8 324.0,104.3 324.3,103.2 324.6,101.9 325.0,99.6 325.4,98.4 325.7,94.4 326.0,82.6 326.4,73.8 326.6,66.5 326.9,64.4 327.2,74.6 327.5,80.9 327.9,84.7 328.2,90.7 328.5,95.3 328.9,96.1 329.2,101.0 329.6,101.4 330.0,103.5 330.3,104.8 330.6,104.5 331.0,106.4 331.4,107.7 331.7,107.4 332.0,107.3 332.4,106.6 332.7,105.3 332.9,104.4 333.2,104.6 333.5,98.8 333.9,93.0 334.2,95.8 334.6,102.5 335.0,105.8 335.3,106.7 335.6,108.2 336.0,108.8 336.4,108.5 336.7,106.8 337.0,96.8 337.4,88.0 337.8,98.4 338.1,104.0 338.5,104.4 338.8,106.9 339.1,108.7 339.5,109.7 339.9,108.1 340.2,107.4 340.5,106.9 340.7,107.7 341.0,108.9 341.2,106.2 341.5,104.8 341.9,107.0 342.2,107.9 342.5,108.0 342.7,108.6 343.0,109.0 343.3,108.8 343.7,107.9 344.0,108.0 344.3,107.3 344.7,106.4 345.0,104.9 345.4,107.7 345.7,108.4 346.0,108.7 346.2,109.6 346.5,109.3 346.8,109.3 347.2,108.2 347.5,106.8 347.8,106.7 348.0,107.0 348.3,106.4 348.5,105.9 348.8,106.7 349.1,106.7 349.5,105.1 349.8,102.1 350.0,101.9 350.3,100.0 350.6,97.9 351.0,96.3 351.2,96.1 351.5,100.4 351.8,93.7 352.1,90.4 352.4,89.9 352.7,85.4 353.0,73.5 353.3,61.2 353.6,75.8 354.0,85.4 354.3,92.3 354.6,94.4 354.9,94.6 355.2,99.3 355.5,102.8 355.8,104.8 356.1,101.9 356.4,102.0 356.8,103.7 357.1,105.8 357.4,103.0 357.6,102.6 357.9,98.0 358.2,100.1 358.6,101.3 359.0,97.4 359.3,96.5 359.6,91.0 360.0,85.3 360.4,89.1 360.7,92.6 361.0,94.1 361.4,99.1 361.8,100.5 362.1,103.1 362.4,105.0 362.6,105.8 362.9,105.0 363.2,107.2 363.6,108.0 364.0,108.6 364.3,110.5 364.6,109.9 365.0,108.1 365.4,107.9 365.7,107.9 366.0,105.2 366.4,100.5 366.8,92.6 367.1,88.6 367.5,74.3 367.8,64.3 368.1,80.3 368.5,91.3 368.9,94.7 369.2,100.6 369.5,100.4 369.9,103.7 370.2,106.5 370.5,109.3 370.9,107.4 371.2,103.1 371.6,87.9 372.0,101.2 372.4,80.4 372.8,95.7 373.2,77.3 373.6,95.1 374.0,71.1 374.2,83.6 374.5,92.0 374.9,64.6 375.3,89.0 375.7,68.5 376.0,57.2 376.4,85.9 376.8,64.3 377.1,62.2 377.3,61.3 377.7,87.2 378.1,76.5 378.4,88.2 378.6,94.0 379.0,86.8 379.2,95.7 379.5,101.1 379.8,103.6 380.0,103.5 380.4,104.6 380.7,104.9 381.0,104.8 381.4,105.4 381.7,106.1 382.0,104.4 382.3,104.1 382.5,105.3 382.8,103.6 383.1,104.2 383.3,105.7 383.6,104.9 383.9,102.7 384.1,100.4 384.4,99.0 384.7,96.5 385.0,99.3 385.4,103.8 385.8,103.3 386.1,105.0 386.5,105.9 386.8,106.3 387.1,106.6 387.5,105.0 387.8,96.4 388.1,92.3 388.3,84.3 388.6,75.1 389.0,87.6 389.3,96.8 389.6,100.7 390.0,105.2 390.4,106.5 390.7,105.0 391.0,99.4 391.4,90.9 391.8,97.9 392.1,104.1 392.4,104.1 392.6,106.5 392.9,107.4 393.2,107.2 393.6,108.9 394.0,109.2 394.3,108.2 394.6,108.3 395.0,109.0 395.3,103.8 395.6,99.4 395.9,88.4 396.1,76.7 396.5,86.0 396.8,93.7 397.1,97.3 397.5,100.0 397.9,103.6 398.2,107.3 398.5,105.4 398.9,102.7 399.2,100.3 399.6,94.6 400.0,100.6 400.3,107.2 400.6,108.1 401.0,109.0 401.4,108.1 401.7,105.9 402.0,105.7 402.4,107.8 402.8,103.0 403.1,100.4 403.5,103.1 403.8,107.0 404.1,107.5 404.5,109.1 404.9,109.2 405.2,107.8 405.5,109.0 405.9,111.2 406.2,109.7 406.6,109.2 407.0,108.1 407.3,107.7 407.6,106.0 407.9,104.2 408.2,103.7 408.6,100.7 409.0,104.5 409.3,104.6 409.6,105.9 410.0,105.0 410.4,105.4 410.7,105.2 411.0,104.7 411.4,106.5 411.7,98.1 412.0,93.6 412.4,71.2 412.7,47.1 413.0,69.9 413.3,88.9 413.6,93.6 413.8,101.1 414.1,96.0 414.3,85.4 414.6,91.8 414.9,97.6 415.2,90.4 415.5,82.2 415.8,80.0 416.0,76.3 416.4,42.5 416.7,61.0 417.0,84.7 417.3,90.9 417.6,101.1 417.9,99.6 418.2,93.4 418.5,97.0 418.8,103.0 419.1,95.3 419.4,92.0 419.7,93.9 420.0,98.5 420.3,94.5 420.6,87.7 420.9,91.7 421.2,98.5 421.5,75.2 421.8,55.3 422.1,71.6 422.4,90.7 422.7,97.0 423.0,103.6 423.3,99.7 423.6,93.4 423.9,98.8 424.2,105.9 424.5,103.0 424.8,97.0 425.1,97.0 425.4,91.2 425.7,77.9 426.0,60.7 426.3,73.1 426.6,90.6 426.9,95.6 427.2,102.7 427.5,101.6 427.8,96.5 428.1,100.4 428.4,100.6 428.8,78.8 429.1,61.3 429.4,76.0 429.7,91.3 429.9,94.3 430.2,98.9 430.6,101.8 431.0,102.6 431.4,105.1 431.7,106.1 432.0,105.9 432.4,107.8 432.8,108.5 433.1,109.8 433.4,110.1 433.7,110.2 434.0,109.6 434.3,109.3 434.7,110.4 435.0,110.7 435.4,110.4 435.7,109.6 436.0,109.0 436.3,106.9 436.6,103.4 436.9,100.3 437.2,83.2 437.5,58.6 437.8,40.4 438.1,63.0 438.5,90.2 438.9,95.1 439.2,104.1 439.5,103.2 439.7,100.3 440.0,100.7 440.4,103.0 440.7,106.8 441.0,106.6 441.4,107.8 441.8,107.7 442.1,109.2 442.4,110.3 442.6,109.8 442.9,110.4 443.2,110.6 443.6,109.6 444.0,107.0 444.3,103.3 444.6,101.3 445.0,101.4 445.4,100.4 445.7,95.0 446.0,79.5 446.4,70.0 446.8,84.5 447.1,93.3 447.5,91.4 447.8,95.1 448.1,96.8 448.5,101.1 448.8,93.6 449.0,82.6 449.3,77.9 449.6,87.9 450.0,94.8 450.4,98.0 450.7,104.9 451.0,103.6 451.4,99.9 451.8,101.1 452.1,105.6 452.4,106.3 452.6,106.3 452.9,107.6 453.2,103.2 453.5,100.1 453.8,66.5 454.0,33.0 454.3,35.6 454.6,39.8 454.9,36.7 455.1,34.9 455.4,60.7 455.7,84.7 456.0,85.8 456.4,90.6 456.8,85.5 457.1,84.2 457.5,90.5 457.8,94.6 458.1,95.3 458.3,100.4 458.6,100.1 459.0,96.5 459.3,93.8 459.6,74.2 460.0,54.9 460.4,73.0 460.7,96.9 461.0,95.3 461.4,98.8 461.8,99.0 462.1,102.6 462.4,104.8 462.6,106.7 462.9,108.1 463.2,110.6 463.6,111.9 464.0,110.3 464.3,108.9 464.6,110.7 465.0,112.0 465.4,108.6 465.7,105.8 466.0,98.7 466.4,95.2 466.8,83.8 467.1,73.2 467.5,82.6 467.8,89.5 468.1,94.0 468.3,97.6 468.6,97.5 469.0,102.5 469.3,104.9 469.6,103.3 470.0,101.4 470.4,104.0 470.7,106.3 471.0,103.0 471.4,99.8 471.8,103.2 472.1,106.7 472.4,106.1 472.6,104.8 472.9,103.5 473.2,101.7 473.6,96.7 473.9,82.0 474.2,67.7 474.5,53.5 474.9,77.2 475.2,97.0 475.5,99.7 475.9,100.6 476.2,102.4 476.6,104.1 477.0,102.1 477.3,99.6 477.6,102.5 478.0,103.0 478.3,97.6 478.6,91.0 479.0,93.5 479.3,99.0 479.6,96.3 480.0,95.6 480.3,83.1 480.6,66.6 480.9,56.2 481.2,74.9 481.6,94.1 482.0,98.6 482.3,98.8 482.6,100.1 483.0,103.5 483.3,100.6 483.6,98.2 484.0,96.1 484.3,91.6 484.6,98.7 485.0,100.9 485.4,103.3 485.7,104.2 486.0,102.3 486.4,99.4 486.8,95.8 487.1,93.4 487.5,86.1 487.8,79.6 488.1,69.0 488.5,56.7 488.8,61.8 489.0,70.3 489.3,74.5 489.6,79.7 490.0,90.7 490.4,94.9 490.7,96.0 491.0,99.3 491.4,100.1 491.8,100.7 492.1,102.9 492.4,102.8 492.6,105.2 492.9,107.0 493.2,108.4 493.6,109.5 494.0,109.1 494.3,107.6 494.6,108.8 495.0,108.6 495.4,96.5 495.7,87.4 496.0,93.8 496.4,104.9 496.8,104.6 497.1,106.3 497.4,108.4 497.6,108.6 497.9,109.4 498.2,108.0 498.6,107.8 499.0,108.7 499.3,108.9 499.6,107.7 500.0,104.3 500.4,105.8 500.7,106.7 501.0,100.1 501.4,95.6 501.8,59.8 502.1,18.5 502.5,53.6 502.8,86.3 503.1,87.1 503.3,93.3 503.6,94.4 504.0,97.1 504.3,99.7 504.6,98.4 505.0,96.4 505.4,99.3 505.7,103.4 506.0,97.5 506.4,93.7 506.8,95.9 507.1,99.0 507.4,100.4 507.6,101.5 507.9,102.9 508.2,105.8 508.6,106.5 509.0,104.7 509.3,105.2 509.6,101.0 510.0,99.1 510.4,99.7 510.7,95.7 511.0,91.5 511.4,86.0 511.8,91.0 512.1,94.7 512.4,96.8 512.6,96.1 512.9,98.8 513.2,101.6 513.6,105.1 514.0,104.8 514.3,106.1 514.6,103.6 515.0,103.3 515.4,105.7 515.7,105.1 516.0,103.8 516.4,100.7 516.8,100.2 517.1,95.8 517.5,95.9 517.8,101.1 518.1,80.8 518.5,56.9 518.8,36.6 519.1,63.5 519.5,90.4 519.8,94.8 520.1,97.0 520.4,99.7 520.7,106.1 521.0,101.8 521.4,98.6 521.8,94.4 522.1,89.6 522.5,87.6 522.8,81.0 523.1,51.0 523.5,20.8 523.9,49.6 524.2,80.6 524.5,88.1 524.9,94.4 525.2,93.8 525.4,91.0 525.7,91.2 526.0,83.4 526.2,73.7 526.5,64.1 526.8,59.0 527.1,76.0 527.5,95.3 527.9,97.8 528.2,104.1 528.5,105.6 528.9,107.2 529.2,106.7 529.6,106.2 530.0,106.4 530.3,104.6 530.6,107.0 531.0,108.1 531.4,108.7 531.7,108.4 532.0,109.2 532.4,108.3 532.7,106.5 533.0,105.7 533.3,95.6 533.6,86.8 534.0,91.8 534.3,100.0 534.6,101.6 535.0,106.0 535.4,106.2 535.7,106.4 536.0,107.4 536.4,108.4 536.8,106.9 537.1,106.8 537.4,108.8 537.6,109.8 537.9,110.2 538.2,104.8 538.6,101.7 539.0,102.6 539.3,106.6 539.6,100.9 540.0,98.5 540.4,91.7 540.7,82.2 541.0,92.9 541.4,99.4 541.8,100.4 542.1,104.7 542.5,104.8 542.8,107.5 543.1,106.9 543.3,105.7 543.6,105.5 544.0,103.9 544.3,105.1" stroke="#ff0000" stroke-width="1.80" stroke-dasharray="4.5 1.6"/>
<polyline points="224.15,66 224.3,43.8 224.45,66" stroke="#ff0000" stroke-width="1.5"/>
</g>
<rect x="45.50" y="5.00" width="498.50" height="109.85" fill="none" stroke="#222222" stroke-width="1.30"/>
<line x1="42.00" y1="84.60" x2="45.50" y2="84.60" stroke="#222222" stroke-width="1"/>
<text x="37.6" y="88.20" text-anchor="end" class="tk">100</text>
<line x1="42.00" y1="49.90" x2="45.50" y2="49.90" stroke="#222222" stroke-width="1"/>
<text x="37.6" y="53.50" text-anchor="end" class="tk">200</text>
<line x1="42.00" y1="15.30" x2="45.50" y2="15.30" stroke="#222222" stroke-width="1"/>
<text x="37.6" y="18.90" text-anchor="end" class="tk">300</text>
<line x1="111.35" y1="114.85" x2="111.35" y2="118.35" stroke="#222222" stroke-width="1"/>
<text x="111.35" y="129.25" text-anchor="middle" class="tk">2008</text>
<line x1="177.90" y1="114.85" x2="177.90" y2="118.35" stroke="#222222" stroke-width="1"/>
<text x="177.90" y="129.25" text-anchor="middle" class="tk">2010</text>
<line x1="244.45" y1="114.85" x2="244.45" y2="118.35" stroke="#222222" stroke-width="1"/>
<text x="244.45" y="129.25" text-anchor="middle" class="tk">2012</text>
<line x1="311.00" y1="114.85" x2="311.00" y2="118.35" stroke="#222222" stroke-width="1"/>
<text x="311.00" y="129.25" text-anchor="middle" class="tk">2014</text>
<line x1="377.55" y1="114.85" x2="377.55" y2="118.35" stroke="#222222" stroke-width="1"/>
<text x="377.55" y="129.25" text-anchor="middle" class="tk">2016</text>
<line x1="444.10" y1="114.85" x2="444.10" y2="118.35" stroke="#222222" stroke-width="1"/>
<text x="444.10" y="129.25" text-anchor="middle" class="tk">2018</text>
<line x1="510.65" y1="114.85" x2="510.65" y2="118.35" stroke="#222222" stroke-width="1"/>
<text x="510.65" y="129.25" text-anchor="middle" class="tk">2020</text>
<text transform="translate(14.6,60.20) rotate(-90)" text-anchor="middle" class="lab">Discharge (Cfs)</text>
<text x="294.7" y="142.70" text-anchor="middle" class="lab">year</text>
<rect x="50.60" y="10.20" width="153.90" height="12.40" rx="1.2" fill="#8a8a8a" opacity="0.85"/>
<rect x="48.60" y="7.90" width="153.90" height="12.40" rx="1.2" fill="#fff" stroke="#d0d0d0" stroke-width="0.8"/>
<line x1="50.8" y1="13.60" x2="64.6" y2="13.60" stroke="#1a1a1a" stroke-width="1.2"/>
<text x="70" y="16.35" class="lg">Observed flow</text>
<line x1="131.5" y1="13.70" x2="144.6" y2="13.70" stroke="#e00000" stroke-width="1.8" stroke-dasharray="5.1 2.9"/>
<text x="150.5" y="16.35" class="lg">Forcasted flow</text>
<text x="67.3" y="34.40" class="tag" textLength="27.4" lengthAdjust="spacingAndGlyphs">(ANN)</text>
<text x="276" y="167.00" text-anchor="middle" class="cap">(<tspan font-weight="bold">a</tspan>)</text>
<clipPath id="c175"><rect x="45.50" y="180.50" width="498.50" height="109.85"/></clipPath>
<g clip-path="url(#c175)" fill="none" stroke-linejoin="round">
<polyline points="45.2,279.5 45.5,269.9 45.7,265.5 46.0,271.7 46.2,282.5 46.5,272.3 46.7,263.5 47.0,272.0 47.2,283.5 47.5,277.1 47.7,270.5 48.0,276.3 48.2,284.5 48.6,267.5 49.0,252.5 49.2,262.2 49.5,275.5 49.8,280.3 50.0,284.0 50.2,278.6 50.5,271.5 50.8,277.3 51.0,284.5 51.2,280.7 51.5,274.5 51.8,277.6 52.0,282.5 52.2,273.2 52.5,265.5 52.8,274.6 53.0,281.5 53.2,272.3 53.5,267.5 53.8,275.7 54.0,279.5 54.2,266.9 54.5,259.5 54.8,267.3 55.0,275.5 55.2,270.8 55.5,263.5 55.9,251.0 56.1,259.5 56.4,273.5 56.6,277.8 56.9,279.5 57.1,276.0 57.4,267.5 57.7,256.9 58.0,246.8 58.3,256.4 58.6,270.5 58.9,263.5 59.2,261.5 59.5,266.1 59.8,275.5 60.0,271.1 60.3,263.5 60.6,242.5 61.0,222.5 61.3,242.5 61.6,257.5 62.0,270.5 62.4,263.5 62.8,275.5 63.2,271.5 63.6,281.5 64.0,283.9 64.3,286.5 64.7,284.4 65.0,283.5 65.3,284.6 65.6,286.0 66.0,275.5 66.4,281.5 66.8,267.5 67.2,275.5 67.6,263.5 67.8,253.5 68.1,240.5 68.5,267.5 68.9,277.5 69.3,263.5 69.7,279.5 70.1,267.5 70.5,281.5 70.9,265.5 71.1,260.5 71.5,275.5 71.9,263.5 72.3,279.5 72.7,267.5 73.1,282.5 73.5,269.5 73.9,279.5 74.3,271.5 74.7,275.5 75.0,259.5 75.2,239.5 75.6,263.5 76.0,255.5 76.4,270.5 76.8,259.5 77.2,275.5 77.6,261.5 78.0,273.5 78.4,263.5 78.8,277.5 79.2,267.5 79.6,279.5 80.0,275.5 80.2,277.5 80.5,282.5 80.8,280.1 81.0,279.5 81.2,282.0 81.5,284.5 81.8,283.3 82.0,283.5 82.2,285.1 82.5,285.5 82.8,281.8 83.0,275.5 83.3,255.7 83.6,238.1 83.9,243.9 84.2,250.5 84.5,252.8 84.8,254.5 85.1,258.7 85.4,265.5 85.7,258.9 85.9,251.9 86.2,259.4 86.6,270.5 86.9,266.8 87.3,265.5 87.7,270.2 88.0,275.5 88.3,277.3 88.5,278.3 88.8,279.5 89.1,279.8 89.3,280.8 89.6,282.5 89.9,282.2 90.2,284.0 90.5,284.0 90.8,283.7 91.2,285.0 91.5,285.0 91.8,285.0 92.2,285.4 92.5,286.0 92.8,286.4 93.2,286.5 93.5,286.5 93.8,285.8 94.0,284.5 94.3,283.5 94.7,275.3 95.0,263.5 95.3,271.6 95.7,283.5 96.0,284.7 96.2,285.0 96.5,286.5 96.8,287.1 97.0,287.3 97.3,287.8 97.6,285.3 97.9,282.7 98.2,279.5 98.5,272.0 98.9,260.8 99.2,254.0 99.5,259.8 99.7,260.1 100.0,265.5 100.3,272.6 100.7,279.5 101.1,281.9 101.4,283.5 101.7,284.0 102.0,285.6 102.3,286.4 102.6,285.9 102.9,285.4 103.2,285.5 103.5,284.6 103.8,282.8 104.0,280.8 104.3,279.9 104.7,282.4 105.0,284.5 105.3,285.6 105.7,287.8 106.0,287.4 106.2,287.5 106.5,287.5 106.8,287.6 107.1,287.0 107.4,286.2 107.6,284.8 107.9,284.5 108.2,283.6 108.6,281.5 108.9,282.9 109.3,283.0 109.6,276.3 110.0,267.6 110.3,259.2 110.6,267.5 110.9,273.5 111.2,275.3 111.4,279.5 111.7,278.4 112.0,275.5 112.3,279.6 112.6,281.5 112.9,279.9 113.2,276.5 113.5,277.5 113.8,279.5 114.1,272.5 114.4,265.3 114.7,257.1 115.0,266.7 115.2,271.5 115.5,268.1 115.7,269.5 116.0,273.9 116.3,274.5 116.6,260.2 116.9,245.5 117.2,255.7 117.6,267.5 117.9,269.2 118.2,271.5 118.5,265.6 118.8,265.5 119.1,267.3 119.4,272.5 119.7,258.7 120.0,244.0 120.2,228.2 120.5,213.5 120.8,242.2 121.2,265.5 121.5,268.4 121.8,271.5 122.1,268.4 122.4,267.5 122.7,274.4 123.0,277.5 123.3,273.3 123.6,271.5 123.9,276.0 124.3,279.5 124.6,277.8 124.9,274.5 125.2,277.8 125.5,278.5 125.8,270.9 126.1,259.1 126.4,250.5 126.8,257.4 127.1,269.5 127.4,270.0 127.7,275.5 128.0,278.8 128.3,280.5 128.6,280.1 128.9,276.5 129.2,271.5 129.4,267.8 129.7,265.4 130.0,259.9 130.3,268.6 130.7,275.5 131.1,278.7 131.4,283.5 131.7,284.6 131.9,284.9 132.2,286.0 132.6,284.5 132.9,283.5 133.2,278.6 133.4,274.7 133.7,266.4 134.0,263.5 134.3,264.6 134.7,271.5 135.1,274.2 135.4,275.5 135.8,275.7 136.1,279.5 136.4,278.8 136.7,280.1 137.0,281.5 137.3,282.5 137.6,281.9 137.9,283.5 138.2,283.4 138.5,285.5 138.8,285.5 139.1,285.1 139.4,285.4 139.7,284.5 140.0,284.4 140.3,285.1 140.6,285.5 140.9,284.6 141.1,283.6 141.4,283.5 141.8,279.0 142.1,275.5 142.3,276.0 142.6,271.5 142.9,277.1 143.2,280.5 143.5,261.5 143.7,243.3 144.0,225.5 144.3,247.1 144.6,271.5 144.9,275.1 145.3,278.5 145.7,280.7 146.0,281.5 146.3,282.6 146.5,282.8 146.8,283.5 147.1,283.0 147.4,284.9 147.6,284.4 147.9,284.9 148.2,282.9 148.5,280.0 148.8,279.5 149.2,273.9 149.5,271.5 149.8,270.7 150.2,265.5 150.6,247.8 150.9,229.9 151.2,246.6 151.5,260.5 151.8,263.4 152.0,270.5 152.4,241.5 152.7,252.5 153.0,265.5 153.3,271.5 153.6,273.5 153.9,270.4 154.3,263.5 154.6,244.2 154.8,225.2 155.1,210.3 155.4,234.7 155.8,255.5 156.1,259.5 156.4,267.5 156.7,273.2 157.0,275.5 157.3,249.5 157.6,221.2 157.9,238.9 158.3,260.5 158.7,263.0 159.0,270.5 159.3,269.6 159.6,263.5 159.9,270.1 160.3,275.5 160.7,278.0 161.0,279.5 161.3,281.4 161.7,283.5 162.0,283.3 162.2,284.6 162.5,284.9 162.8,284.0 163.0,284.5 163.3,283.5 163.7,277.9 164.0,270.5 164.2,255.2 164.5,245.5 164.8,258.1 165.2,265.5 165.5,266.7 165.8,273.5 166.1,254.9 166.4,241.3 166.7,257.2 167.0,275.5 167.3,276.2 167.6,279.5 167.9,266.9 168.3,256.6 168.6,246.5 168.9,264.4 169.3,279.5 169.7,280.5 170.0,282.0 170.3,280.1 170.7,279.5 170.9,275.0 171.2,270.5 171.5,251.4 171.8,233.5 172.2,248.4 172.5,265.5 172.8,272.9 173.2,275.5 173.5,273.8 173.8,271.5 174.2,277.6 174.5,279.5 174.8,277.6 175.2,273.5 175.5,276.3 175.8,278.5 176.1,273.0 176.3,271.0 176.6,265.5 176.9,227.7 177.3,190.5 177.7,226.8 178.0,260.5 178.3,267.4 178.6,275.5 178.9,278.5 179.3,281.5 179.7,252.8 180.0,229.9 180.3,254.1 180.7,275.5 181.1,253.7 181.4,237.5 181.8,255.1 182.1,270.5 182.4,274.4 182.8,277.5 183.2,275.8 183.5,271.5 183.8,255.6 184.2,243.3 184.5,227.5 184.8,245.7 185.2,267.5 185.5,271.7 185.8,275.5 186.2,276.9 186.5,279.5 186.8,278.5 187.2,273.5 187.6,276.8 187.9,275.5 188.2,266.3 188.5,260.5 188.8,265.9 189.2,270.5 189.5,242.8 189.7,220.0 190.0,190.5 190.3,228.0 190.7,260.5 191.0,266.0 191.3,270.5 191.7,248.8 192.0,224.5 192.3,238.6 192.5,249.6 192.8,263.5 193.1,256.4 193.3,246.8 193.6,234.8 193.9,249.1 194.3,265.5 194.7,270.0 195.0,271.5 195.3,268.1 195.7,270.5 196.1,273.8 196.4,273.5 196.7,263.5 196.9,252.8 197.2,264.9 197.6,271.5 197.9,272.8 198.3,275.5 198.6,274.6 198.9,272.5 199.2,275.2 199.5,279.5 199.8,281.3 200.2,281.5 200.5,282.4 200.7,283.9 201.0,283.5 201.3,283.1 201.7,283.9 202.0,285.0 202.3,284.7 202.7,285.2 203.0,286.0 203.3,286.3 203.7,286.2 204.0,285.5 204.3,286.0 204.7,286.9 205.0,287.0 205.3,287.1 205.7,286.9 206.0,286.5 206.3,285.8 206.7,284.0 207.0,283.5 207.3,280.3 207.6,276.5 207.9,273.5 208.2,278.4 208.5,279.5 208.8,279.6 209.2,281.5 209.5,281.8 209.7,283.8 210.0,284.5 210.3,284.5 210.7,285.0 211.0,286.0 211.4,282.1 211.7,283.8 212.0,285.5 212.3,286.2 212.7,286.3 213.0,286.5 213.3,286.6 213.7,285.9 214.0,286.0 214.3,283.4 214.7,281.5 215.0,279.5 215.3,258.6 215.6,231.8 215.9,250.0 216.3,265.5 216.7,273.2 217.0,275.5 217.3,273.7 217.7,271.5 218.0,275.7 218.3,279.5 218.7,276.0 219.0,267.5 219.3,272.5 219.7,280.5 220.0,276.8 220.3,270.5 220.6,261.7 220.9,251.5 221.1,240.4 221.4,228.3 221.7,240.6 221.9,258.1 222.2,271.5 222.6,279.1 222.9,283.5 223.2,279.7 223.6,275.5 223.9,253.9 224.3,234.0 224.7,254.9 225.0,270.5 225.3,273.3 225.7,275.5 226.1,273.6 226.4,272.5 226.8,276.5 227.1,279.5 227.4,277.8 227.8,273.5 228.1,273.9 228.3,274.9 228.6,278.5 228.9,275.6 229.3,272.5 229.7,259.4 230.0,241.1 230.3,257.4 230.7,271.5 231.1,274.2 231.4,275.5 231.8,273.7 232.1,270.5 232.4,273.5 232.6,277.5 232.9,279.5 233.2,279.8 233.6,281.5 233.9,280.8 234.3,277.5 234.7,275.6 235.0,275.5 235.3,262.4 235.7,243.9 236.1,263.3 236.4,277.5 236.8,278.1 237.1,281.5 237.4,280.4 237.6,280.3 237.9,278.5 238.2,278.8 238.6,279.5 238.9,261.5 239.2,245.3 239.5,225.4 239.8,251.7 240.2,275.5 240.5,278.7 240.7,276.9 241.0,279.5 241.3,280.0 241.7,277.5 242.0,269.4 242.3,257.0 242.6,248.2 242.9,234.9 243.2,253.7 243.6,275.5 243.9,278.5 244.3,278.5 244.7,280.8 245.0,281.5 245.3,278.9 245.7,275.5 246.1,275.9 246.4,279.5 246.7,276.3 247.0,276.5 247.3,274.1 247.6,274.7 247.9,275.5 248.2,278.5 248.6,279.5 248.9,280.2 249.3,281.5 249.7,276.9 250.0,269.9 250.3,275.3 250.7,279.5 251.1,280.2 251.4,281.5 251.8,282.0 252.1,280.5 252.4,280.3 252.6,282.4 252.9,283.5 253.2,283.2 253.6,281.5 253.9,282.2 254.3,284.5 254.7,283.9 255.0,282.5 255.3,275.9 255.7,267.9 256.0,264.9 256.4,272.1 256.7,279.5 257.0,281.6 257.4,283.5 257.8,283.8 258.1,285.5 258.4,285.4 258.7,285.0 259.0,285.0 259.3,284.7 259.7,285.3 260.0,286.0 260.3,281.1 260.7,278.3 261.0,274.2 261.4,277.3 261.7,283.5 262.0,285.2 262.4,285.5 262.7,286.2 262.9,286.6 263.2,286.5 263.5,286.1 263.7,286.6 264.0,286.0 264.3,286.9 264.7,287.0 265.0,287.1 265.3,286.7 265.7,286.9 266.0,286.5 266.3,286.4 266.7,286.1 267.0,286.0 267.3,285.3 267.7,284.4 268.0,284.5 268.3,283.3 268.6,283.5 269.0,283.6 269.3,285.0 269.6,283.7 270.0,282.5 270.4,281.4 270.7,279.5 271.0,277.3 271.4,272.8 271.8,274.8 272.1,280.5 272.4,282.3 272.6,281.5 272.9,283.5 273.2,284.8 273.6,286.0 274.0,285.1 274.3,283.5 274.6,284.7 275.0,285.5 275.4,284.8 275.7,282.5 276.0,280.6 276.4,279.5 276.8,280.7 277.1,281.5 277.4,279.3 277.6,279.7 277.9,278.5 278.2,278.7 278.6,276.4 279.0,276.8 279.3,279.5 279.6,275.5 280.0,273.5 280.3,251.7 280.6,227.5 281.0,245.0 281.3,265.5 281.6,267.1 281.9,271.5 282.2,275.7 282.6,275.5 283.0,275.2 283.3,269.5 283.6,243.3 283.8,223.7 284.1,197.2 284.5,229.2 284.8,260.5 285.1,260.6 285.4,266.8 285.7,269.2 286.0,271.2 286.4,271.5 286.7,265.7 287.0,265.5 287.4,241.4 287.7,214.3 288.0,240.8 288.4,263.5 288.7,265.9 289.0,273.5 289.4,277.1 289.7,279.5 290.0,277.3 290.3,275.5 290.6,266.8 290.8,261.1 291.1,254.2 291.5,262.8 291.8,275.5 292.1,276.9 292.5,279.5 292.9,280.9 293.2,281.5 293.5,279.9 293.9,278.5 294.2,280.2 294.5,281.5 294.8,279.1 295.0,276.4 295.4,280.0 295.7,281.5 296.0,282.5 296.4,284.1 296.8,283.5 297.1,281.5 297.4,281.9 297.6,284.0 297.9,285.5 298.2,283.7 298.6,282.5 299.0,284.4 299.3,286.5 299.6,285.5 300.0,283.5 300.4,285.7 300.7,287.8 301.0,286.7 301.4,284.5 301.7,285.5 302.0,285.5 302.3,282.2 302.6,280.5 303.0,277.3 303.3,275.5 303.6,276.8 304.0,281.5 304.4,283.3 304.7,284.1 305.0,281.8 305.4,281.5 305.7,279.1 306.1,272.2 306.4,269.9 306.8,274.3 307.1,279.5 307.4,279.6 307.6,281.7 307.9,283.5 308.2,284.3 308.6,285.5 309.0,284.1 309.3,284.1 309.6,285.6 310.0,286.4 310.3,286.2 310.7,285.3 311.0,285.0 311.3,285.8 311.7,285.1 312.0,286.0 312.3,283.8 312.6,282.7 312.9,281.5 313.2,281.5 313.6,279.2 314.0,280.6 314.3,280.5 314.6,279.6 315.0,277.5 315.3,266.1 315.6,255.7 315.9,242.1 316.2,248.3 316.6,255.5 316.9,248.2 317.1,246.5 317.4,253.0 317.6,254.0 317.9,260.5 318.2,263.3 318.6,267.5 319.0,268.6 319.3,271.5 319.6,271.6 320.0,275.5 320.4,277.5 320.7,280.5 321.0,275.7 321.4,273.5 321.8,276.5 322.1,278.5 322.4,278.4 322.6,275.2 322.9,276.5 323.2,277.8 323.6,279.5 324.0,279.2 324.3,278.5 324.6,278.5 325.0,275.5 325.4,273.0 325.7,270.5 326.0,258.0 326.4,250.5 326.6,241.1 326.9,237.1 327.2,249.5 327.5,257.5 327.9,263.2 328.2,265.5 328.5,270.7 328.9,271.5 329.2,272.3 329.6,275.5 330.0,278.1 330.3,279.5 330.6,279.9 331.0,282.5 331.4,284.1 331.7,284.5 332.0,283.7 332.4,283.5 332.7,283.5 332.9,281.4 333.2,280.5 333.5,271.9 333.9,267.8 334.2,275.7 334.6,279.5 335.0,281.8 335.3,283.5 335.6,284.2 336.0,285.5 336.4,282.6 336.7,281.5 337.0,271.1 337.4,262.1 337.8,268.7 338.1,279.5 338.5,281.6 338.8,283.5 339.1,283.9 339.5,285.5 339.9,284.5 340.2,284.5 340.5,285.8 340.7,286.0 341.0,286.5 341.2,284.3 341.5,282.8 341.9,284.8 342.2,285.5 342.5,285.9 342.7,286.6 343.0,286.4 343.3,285.7 343.7,285.7 344.0,284.5 344.3,284.0 344.7,281.9 345.0,282.1 345.4,283.1 345.7,285.0 346.0,285.0 346.2,285.3 346.5,286.0 346.8,284.8 347.2,283.9 347.5,283.5 347.8,283.3 348.0,281.4 348.3,282.2 348.5,284.0 348.8,284.1 349.1,282.6 349.5,282.5 349.8,280.4 350.0,276.0 350.3,275.5 350.6,275.3 351.0,270.5 351.2,270.4 351.5,275.5 351.8,269.8 352.1,265.5 352.4,264.8 352.7,260.5 353.0,250.7 353.3,235.0 353.6,244.9 354.0,260.5 354.3,266.9 354.6,269.5 354.9,271.6 355.2,273.5 355.5,274.6 355.8,279.5 356.1,279.0 356.4,276.5 356.8,277.1 357.1,280.5 357.4,278.1 357.6,276.2 357.9,272.1 358.2,275.1 358.6,276.5 359.0,273.9 359.3,272.5 359.6,263.7 360.0,260.6 360.4,263.7 360.7,267.5 361.0,273.0 361.4,273.5 361.8,275.3 362.1,278.5 362.4,278.7 362.6,279.5 362.9,281.5 363.2,283.2 363.6,284.9 364.0,285.7 364.3,286.4 364.6,285.5 365.0,285.5 365.4,284.9 365.7,284.5 366.0,280.5 366.4,275.5 366.8,273.3 367.1,265.5 367.5,251.3 367.8,238.0 368.1,251.4 368.5,265.5 368.9,270.3 369.2,275.5 369.5,276.4 369.9,279.5 370.2,282.7 370.5,286.4 370.9,283.3 371.2,279.5 371.6,263.5 372.0,275.5 372.4,255.5 372.8,272.5 373.2,250.5 373.6,270.5 374.0,245.5 374.2,255.9 374.5,267.5 374.9,237.5 375.3,265.5 375.7,243.5 376.0,229.9 376.4,260.5 376.8,240.5 377.1,238.0 377.3,234.5 377.7,263.5 378.1,250.5 378.4,262.5 378.6,270.5 379.0,260.5 379.2,271.0 379.5,275.5 379.8,279.0 380.0,279.5 380.4,280.0 380.7,281.2 381.0,278.9 381.4,279.5 381.7,281.1 382.0,282.1 382.3,281.5 382.5,280.3 382.8,280.5 383.1,279.8 383.3,281.1 383.6,282.1 383.9,280.5 384.1,278.9 384.4,272.7 384.7,272.1 385.0,277.5 385.4,279.5 385.8,279.8 386.1,282.5 386.5,283.4 386.8,283.5 387.1,281.4 387.5,281.5 387.8,272.7 388.1,266.9 388.3,255.6 388.6,247.8 389.0,262.7 389.3,272.5 389.6,276.9 390.0,279.5 390.4,281.1 390.7,282.1 391.0,272.6 391.4,266.4 391.8,272.1 392.1,279.5 392.4,280.6 392.6,282.4 392.9,283.5 393.2,285.3 393.6,285.5 394.0,284.7 394.3,284.5 394.6,285.5 395.0,286.4 395.3,282.1 395.6,275.5 395.9,262.9 396.1,252.1 396.5,261.6 396.8,269.5 397.1,273.9 397.5,275.5 397.9,279.9 398.2,283.5 398.5,282.1 398.9,279.5 399.2,272.9 399.6,269.2 400.0,277.4 400.3,281.5 400.6,282.5 401.0,284.9 401.4,284.3 401.7,283.5 402.0,283.9 402.4,284.9 402.8,281.0 403.1,276.4 403.5,278.2 403.8,281.5 404.1,283.8 404.5,286.4 404.9,285.7 405.2,284.5 405.5,285.9 405.9,287.8 406.2,286.9 406.6,285.5 407.0,284.8 407.3,284.5 407.6,281.1 407.9,279.5 408.2,278.7 408.6,277.1 409.0,277.1 409.3,279.5 409.6,280.6 410.0,282.1 410.4,280.5 410.7,279.5 411.0,278.7 411.4,280.5 411.7,276.4 412.0,270.5 412.4,250.6 412.7,228.5 413.0,247.7 413.3,263.5 413.6,269.8 413.8,275.5 414.1,268.3 414.3,260.5 414.6,265.0 414.9,273.5 415.2,263.7 415.5,257.5 415.8,252.4 416.0,250.5 416.4,221.7 416.7,241.3 417.0,260.5 417.3,269.9 417.6,275.5 417.9,270.7 418.2,267.5 418.5,275.5 418.8,279.5 419.1,273.8 419.4,265.5 419.7,271.8 420.0,275.5 420.3,268.5 420.6,263.5 420.9,266.2 421.2,273.5 421.5,256.0 421.8,233.0 422.1,252.4 422.4,267.5 422.7,273.0 423.0,279.5 423.3,276.2 423.6,269.5 423.9,277.3 424.2,281.5 424.5,275.8 424.8,271.5 425.1,268.5 425.4,265.5 425.7,250.0 426.0,236.6 426.3,253.2 426.6,267.5 426.9,275.6 427.2,279.5 427.5,277.2 427.8,270.5 428.1,275.2 428.4,277.5 428.8,256.0 429.1,236.8 429.4,254.4 429.7,267.5 429.9,274.3 430.2,275.5 430.6,278.5 431.0,279.5 431.4,281.1 431.7,283.5 432.0,285.2 432.4,285.5 432.8,286.0 433.1,286.5 433.4,287.2 433.7,287.6 434.0,287.5 434.3,287.6 434.7,287.3 435.0,287.0 435.4,287.0 435.7,287.5 436.0,284.9 436.3,283.5 436.6,279.8 436.9,275.5 437.2,256.5 437.5,237.6 437.8,214.8 438.1,240.3 438.5,265.5 438.9,273.6 439.2,279.5 439.5,279.3 439.7,277.1 440.0,277.5 440.4,280.9 440.7,283.5 441.0,285.3 441.4,285.5 441.8,285.6 442.1,286.5 442.4,287.1 442.6,287.5 442.9,287.8 443.2,287.4 443.6,287.1 444.0,283.9 444.3,279.5 444.6,275.6 445.0,275.5 445.4,275.5 445.7,271.5 446.0,258.3 446.4,241.2 446.8,254.2 447.1,267.5 447.5,266.1 447.8,269.5 448.1,272.2 448.5,275.5 448.8,268.7 449.0,259.4 449.3,253.5 449.6,262.4 450.0,271.5 450.4,276.7 450.7,279.5 451.0,279.1 451.4,275.5 451.8,278.7 452.1,281.5 452.4,282.9 452.6,281.9 452.9,283.5 453.2,280.6 453.5,275.5 453.8,244.0 454.0,207.5 454.3,209.5 454.6,215.5 454.9,214.0 455.1,208.5 455.4,236.6 455.7,260.5 456.0,265.3 456.4,265.5 456.8,261.6 457.1,257.5 457.5,265.1 457.8,271.5 458.1,271.3 458.3,275.2 458.6,275.5 459.0,272.5 459.3,270.5 459.6,247.1 460.0,229.4 460.4,248.3 460.7,271.5 461.0,272.9 461.4,275.5 461.8,279.0 462.1,279.5 462.4,281.7 462.6,284.3 462.9,285.5 463.2,287.1 463.6,288.0 464.0,286.9 464.3,286.5 464.6,287.6 465.0,288.5 465.4,284.8 465.7,281.5 466.0,276.5 466.4,271.5 466.8,259.0 467.1,247.1 467.5,256.2 467.8,265.5 468.1,265.8 468.3,272.8 468.6,273.5 469.0,276.5 469.3,279.5 469.6,278.1 470.0,275.5 470.4,278.4 470.7,281.5 471.0,277.9 471.4,276.5 471.8,280.1 472.1,283.5 472.4,280.6 472.6,280.6 472.9,277.5 473.2,276.1 473.6,271.5 473.9,254.3 474.2,238.8 474.5,226.3 474.9,246.3 475.2,271.5 475.5,273.0 475.9,275.5 476.2,279.2 476.6,279.5 477.0,276.7 477.3,273.5 477.6,274.4 478.0,277.5 478.3,270.4 478.6,266.4 479.0,268.6 479.3,275.5 479.6,271.7 480.0,271.5 480.3,259.8 480.6,242.2 480.9,230.8 481.2,252.3 481.6,269.5 482.0,274.3 482.3,275.5 482.6,276.1 483.0,279.5 483.3,276.7 483.6,273.5 484.0,267.7 484.3,267.8 484.6,273.7 485.0,275.5 485.4,277.6 485.7,279.2 486.0,278.3 486.4,275.5 486.8,272.4 487.1,269.5 487.5,263.6 487.8,255.5 488.1,246.0 488.5,231.4 488.8,238.1 489.0,246.4 489.3,250.5 489.6,257.1 490.0,265.5 490.4,266.1 490.7,271.5 491.0,271.0 491.4,275.5 491.8,276.5 492.1,279.5 492.4,281.8 492.6,281.7 492.9,283.5 493.2,284.1 493.6,285.5 494.0,285.0 494.3,284.5 494.6,286.0 495.0,286.4 495.4,273.5 495.7,260.6 496.0,269.1 496.4,279.5 496.8,280.8 497.1,284.1 497.4,284.7 497.6,284.6 497.9,285.5 498.2,285.0 498.6,284.9 499.0,285.5 499.3,286.4 499.6,283.4 500.0,279.2 500.4,279.6 500.7,281.5 501.0,278.3 501.4,271.5 501.8,233.9 502.1,193.4 502.5,226.8 502.8,260.5 503.1,265.8 503.3,265.7 503.6,269.5 504.0,271.9 504.3,275.5 504.6,271.6 505.0,271.5 505.4,275.8 505.7,277.5 506.0,272.5 506.4,268.5 506.8,272.0 507.1,275.5 507.4,276.7 507.6,278.7 507.9,279.5 508.2,281.2 508.6,283.5 509.0,282.6 509.3,279.5 509.6,277.2 510.0,275.5 510.4,272.8 510.7,271.5 511.0,265.1 511.4,259.9 511.8,267.3 512.1,271.5 512.4,275.5 512.6,276.0 512.9,275.5 513.2,277.9 513.6,280.5 514.0,280.8 514.3,282.1 514.6,280.6 515.0,279.5 515.4,280.4 515.7,282.1 516.0,279.0 516.4,277.5 516.8,273.3 517.1,272.1 517.5,276.1 517.8,275.5 518.1,253.5 518.5,229.1 518.8,209.4 519.1,236.8 519.5,265.5 519.8,268.8 520.1,273.5 520.4,277.1 520.7,280.5 521.0,279.8 521.4,275.5 521.8,273.4 522.1,265.5 522.5,260.9 522.8,255.5 523.1,217.2 523.5,177.5 523.9,217.6 524.2,255.5 524.5,263.0 524.9,270.5 525.2,268.8 525.4,266.1 525.7,265.5 526.0,258.0 526.2,245.9 526.5,238.6 526.8,231.1 527.1,253.1 527.5,270.5 527.9,273.2 528.2,278.5 528.5,281.4 528.9,281.5 529.2,283.6 529.6,283.5 530.0,283.2 530.3,282.5 530.6,283.2 531.0,285.5 531.4,285.5 531.7,286.4 532.0,285.1 532.4,284.5 532.7,282.1 533.0,280.5 533.3,268.2 533.6,260.6 534.0,269.8 534.3,275.5 534.6,278.0 535.0,281.5 535.4,282.2 535.7,284.1 536.0,284.1 536.4,285.5 536.8,284.8 537.1,284.5 537.4,284.4 537.6,285.3 537.9,286.4 538.2,282.3 538.6,277.8 539.0,281.0 539.3,281.5 539.6,277.4 540.0,275.5 540.4,268.1 540.7,257.8 541.0,264.8 541.4,275.5 541.8,277.1 542.1,282.1 542.5,284.1 542.8,284.5 543.1,284.5 543.3,282.3 543.6,282.5 544.0,280.7 544.3,280.5" stroke="#1a1a1a" stroke-width="1.50"/>
<polyline points="45.2,280.9 45.5,277.2 45.7,269.5 46.0,275.2 46.2,282.0 46.5,275.3 46.7,267.5 47.0,275.7 47.2,281.7 47.5,275.5 47.7,271.9 48.0,278.7 48.2,282.9 48.6,267.7 49.0,256.1 49.2,264.7 49.5,275.3 49.8,277.3 50.0,282.1 50.2,278.8 50.5,274.8 50.8,278.6 51.0,283.0 51.2,280.7 51.5,275.7 51.8,278.7 52.0,282.1 52.2,272.5 52.5,266.8 52.8,271.7 53.0,281.4 53.2,273.3 53.5,269.4 53.8,274.2 54.0,279.1 54.2,272.9 54.5,264.3 54.8,267.2 55.0,275.6 55.2,268.6 55.5,263.7 55.9,255.1 56.1,263.4 56.4,272.1 56.6,277.3 56.9,279.0 57.1,275.2 57.4,266.4 57.7,261.6 58.0,252.3 58.3,263.0 58.6,272.0 58.9,269.1 59.2,265.3 59.5,268.3 59.8,274.5 60.0,270.3 60.3,264.7 60.6,245.6 61.0,230.5 61.3,243.3 61.6,258.4 62.0,271.2 62.4,267.7 62.8,276.3 63.2,274.2 63.6,281.1 64.0,283.3 64.3,284.1 64.7,283.0 65.0,281.5 65.3,283.6 65.6,284.7 66.0,275.6 66.4,281.5 66.8,271.2 67.2,275.5 67.6,264.5 67.8,253.9 68.1,243.7 68.5,267.1 68.9,278.6 69.3,267.7 69.7,279.4 70.1,270.1 70.5,282.8 70.9,266.2 71.1,263.9 71.5,274.7 71.9,266.0 72.3,280.1 72.7,268.9 73.1,281.6 73.5,272.8 73.9,278.9 74.3,274.7 74.7,276.1 75.0,258.8 75.2,244.1 75.6,263.5 76.0,259.8 76.4,271.0 76.8,263.4 77.2,274.9 77.6,263.9 78.0,273.5 78.4,267.8 78.8,277.9 79.2,268.6 79.6,280.5 80.0,276.2 80.2,279.0 80.5,281.8 80.8,281.2 81.0,280.2 81.2,280.8 81.5,282.8 81.8,283.5 82.0,282.7 82.2,284.7 82.5,285.0 82.8,279.3 83.0,275.6 83.3,259.2 83.6,245.9 83.9,250.6 84.2,251.6 84.5,254.0 84.8,253.7 85.1,257.5 85.4,264.6 85.7,261.7 85.9,257.8 86.2,262.5 86.6,270.3 86.9,271.7 87.3,268.9 87.7,272.0 88.0,274.1 88.3,275.8 88.5,276.1 88.8,279.1 89.1,279.3 89.3,280.1 89.6,280.7 89.9,280.6 90.2,280.5 90.5,281.6 90.8,281.4 91.2,283.0 91.5,283.1 91.8,284.6 92.2,285.0 92.5,285.1 92.8,285.5 93.2,286.0 93.5,285.9 93.8,283.9 94.0,282.5 94.3,281.7 94.7,274.9 95.0,266.2 95.3,271.1 95.7,281.0 96.0,281.8 96.2,284.9 96.5,286.1 96.8,285.8 97.0,285.8 97.3,286.1 97.6,284.0 97.9,283.0 98.2,280.2 98.5,269.9 98.9,267.2 99.2,257.3 99.5,258.7 99.7,262.9 100.0,265.0 100.3,271.4 100.7,278.1 101.1,278.6 101.4,281.5 101.7,283.4 102.0,282.6 102.3,284.1 102.6,284.4 102.9,284.3 103.2,283.3 103.5,282.5 103.8,283.0 104.0,280.1 104.3,280.5 104.7,281.3 105.0,283.7 105.3,285.2 105.7,286.8 106.0,286.2 106.2,286.7 106.5,286.2 106.8,286.3 107.1,286.4 107.4,285.8 107.6,284.0 107.9,283.3 108.2,281.4 108.6,281.5 108.9,282.1 109.3,280.6 109.6,273.0 110.0,267.8 110.3,262.1 110.6,265.7 110.9,273.8 111.2,276.9 111.4,279.3 111.7,276.5 112.0,274.1 112.3,276.7 112.6,281.7 112.9,276.9 113.2,275.4 113.5,276.1 113.8,278.2 114.1,273.6 114.4,263.8 114.7,259.7 115.0,263.4 115.2,270.5 115.5,271.1 115.7,270.4 116.0,273.4 116.3,274.9 116.6,264.9 116.9,251.2 117.2,261.0 117.6,269.0 117.9,273.0 118.2,272.8 118.5,269.2 118.8,269.7 119.1,273.2 119.4,271.7 119.7,258.8 120.0,249.3 120.2,239.1 120.5,231.4 120.8,250.0 121.2,265.3 121.5,268.1 121.8,270.8 122.1,273.0 122.4,270.2 122.7,276.4 123.0,277.9 123.3,278.0 123.6,274.2 123.9,277.6 124.3,280.1 124.6,277.1 124.9,275.1 125.2,278.6 125.5,278.3 125.8,272.1 126.1,261.3 126.4,255.5 126.8,262.1 127.1,268.0 127.4,268.2 127.7,274.1 128.0,275.3 128.3,280.2 128.6,278.3 128.9,275.3 129.2,273.7 129.4,271.9 129.7,268.4 130.0,264.1 130.3,267.2 130.7,274.7 131.1,279.6 131.4,282.8 131.7,284.5 131.9,284.7 132.2,285.2 132.6,283.7 132.9,282.2 133.2,277.4 133.4,271.9 133.7,270.7 134.0,265.9 134.3,271.7 134.7,271.9 135.1,271.3 135.4,274.6 135.8,278.9 136.1,280.7 136.4,282.5 136.7,281.8 137.0,282.9 137.3,283.4 137.6,281.7 137.9,282.2 138.2,282.4 138.5,283.5 138.8,283.9 139.1,284.4 139.4,283.6 139.7,283.3 140.0,283.0 140.3,285.0 140.6,284.8 140.9,283.8 141.1,283.2 141.4,281.4 141.8,277.3 142.1,275.1 142.3,273.4 142.6,273.4 142.9,276.0 143.2,281.8 143.5,263.0 143.7,247.7 144.0,231.2 144.3,251.0 144.6,271.8 144.9,275.6 145.3,277.9 145.7,281.4 146.0,283.0 146.3,282.7 146.5,284.0 146.8,283.2 147.1,283.8 147.4,283.5 147.6,283.5 147.9,284.4 148.2,283.6 148.5,281.2 148.8,278.9 149.2,273.7 149.5,272.5 149.8,270.4 150.2,266.0 150.6,248.8 150.9,233.0 151.2,245.5 151.5,259.0 151.8,266.3 152.0,270.4 152.4,247.5 152.7,254.8 153.0,265.5 153.3,267.7 153.6,272.6 153.9,268.4 154.3,263.8 154.6,253.2 154.8,235.3 155.1,224.8 155.4,241.5 155.8,254.2 156.1,261.9 156.4,266.9 156.7,269.1 157.0,275.1 157.3,253.2 157.6,229.4 157.9,246.3 158.3,261.8 158.7,266.8 159.0,269.2 159.3,268.5 159.6,267.3 159.9,269.8 160.3,274.6 160.7,277.2 161.0,279.7 161.3,280.2 161.7,282.2 162.0,282.6 162.2,283.0 162.5,283.7 162.8,282.7 163.0,282.7 163.3,282.9 163.7,275.4 164.0,269.2 164.2,260.1 164.5,252.3 164.8,259.5 165.2,265.9 165.5,271.9 165.8,274.9 166.1,260.1 166.4,248.2 166.7,261.5 167.0,274.1 167.3,276.4 167.6,280.0 167.9,269.3 168.3,259.8 168.6,252.9 168.9,269.3 169.3,280.2 169.7,282.2 170.0,282.0 170.3,281.5 170.7,279.1 170.9,273.2 171.2,270.4 171.5,252.8 171.8,239.4 172.2,250.5 172.5,266.4 172.8,269.4 173.2,274.8 173.5,273.7 173.8,273.4 174.2,274.3 174.5,279.4 174.8,277.6 175.2,276.4 175.5,278.6 175.8,279.4 176.1,276.7 176.3,269.2 176.6,266.8 176.9,240.1 177.3,219.4 177.7,242.2 178.0,261.5 178.3,267.5 178.6,274.9 178.9,277.1 179.3,280.7 179.7,255.0 180.0,233.5 180.3,253.1 180.7,275.5 181.1,258.2 181.4,243.7 181.8,255.5 182.1,270.3 182.4,272.8 182.8,278.0 183.2,275.5 183.5,272.8 183.8,260.9 184.2,244.1 184.5,231.5 184.8,249.1 185.2,267.8 185.5,272.0 185.8,276.5 186.2,278.7 186.5,278.3 186.8,277.5 187.2,274.6 187.6,277.9 187.9,277.0 188.2,268.0 188.5,262.9 188.8,268.4 189.2,270.3 189.5,251.4 189.7,235.5 190.0,217.5 190.3,238.5 190.7,259.2 191.0,264.7 191.3,269.3 191.7,247.8 192.0,228.5 192.3,238.0 192.5,249.7 192.8,264.7 193.1,258.2 193.3,248.9 193.6,237.5 193.9,252.0 194.3,267.0 194.7,267.0 195.0,271.9 195.3,273.6 195.7,271.3 196.1,272.1 196.4,272.9 196.7,264.6 196.9,256.6 197.2,265.1 197.6,272.0 197.9,272.3 198.3,276.0 198.6,273.7 198.9,274.0 199.2,278.1 199.5,279.6 199.8,280.7 200.2,280.3 200.5,282.0 200.7,280.7 201.0,281.1 201.3,283.3 201.7,284.1 202.0,284.5 202.3,284.4 202.7,284.9 203.0,284.1 203.3,283.2 203.7,282.7 204.0,283.2 204.3,284.4 204.7,283.9 205.0,285.2 205.3,284.8 205.7,284.8 206.0,284.0 206.3,283.7 206.7,282.0 207.0,281.9 207.3,280.2 207.6,274.7 207.9,273.9 208.2,276.9 208.5,279.3 208.8,281.0 209.2,280.1 209.5,280.9 209.7,281.0 210.0,282.3 210.3,284.1 210.7,284.2 211.0,284.6 211.4,280.9 211.7,282.7 212.0,283.1 212.3,284.5 212.7,285.2 213.0,285.2 213.3,285.2 213.7,285.5 214.0,285.0 214.3,283.4 214.7,281.2 215.0,280.2 215.3,257.5 215.6,237.5 215.9,250.3 216.3,266.0 216.7,268.3 217.0,276.3 217.3,275.9 217.7,274.4 218.0,276.1 218.3,278.7 218.7,276.4 219.0,270.3 219.3,273.2 219.7,280.2 220.0,276.9 220.3,271.0 220.6,260.3 220.9,252.2 221.1,243.1 221.4,235.5 221.7,250.7 221.9,261.3 222.2,272.9 222.6,277.9 222.9,283.2 223.2,278.3 223.6,275.4 223.9,252.0 224.3,234.0 224.7,251.8 225.0,271.1 225.3,276.3 225.7,276.6 226.1,275.4 226.4,274.6 226.8,278.2 227.1,280.4 227.4,278.5 227.8,273.6 228.1,273.6 228.3,277.1 228.6,279.8 228.9,276.2 229.3,273.2 229.7,258.8 230.0,247.8 230.3,259.5 230.7,272.7 231.1,275.5 231.4,276.7 231.8,272.1 232.1,271.3 232.4,275.3 232.6,276.6 232.9,280.4 233.2,281.8 233.6,282.3 233.9,278.4 234.3,276.6 234.7,277.6 235.0,276.2 235.3,262.7 235.7,250.1 236.1,265.3 236.4,276.6 236.8,281.0 237.1,282.4 237.4,281.0 237.6,277.5 237.9,277.4 238.2,278.2 238.6,279.8 238.9,268.2 239.2,251.9 239.5,236.5 239.8,257.5 240.2,275.3 240.5,276.4 240.7,279.3 241.0,278.8 241.3,279.7 241.7,277.7 242.0,268.8 242.3,259.1 242.6,246.7 242.9,239.5 243.2,254.5 243.6,275.4 243.9,275.3 244.3,277.6 244.7,280.9 245.0,282.9 245.3,279.8 245.7,274.2 246.1,277.3 246.4,278.0 246.7,278.8 247.0,276.5 247.3,274.5 247.6,274.5 247.9,276.5 248.2,277.4 248.6,280.0 248.9,279.8 249.3,282.3 249.7,277.4 250.0,271.9 250.3,277.8 250.7,280.0 251.1,281.7 251.4,281.0 251.8,279.3 252.1,279.8 252.4,281.4 252.6,282.4 252.9,283.1 253.2,282.1 253.6,280.2 253.9,281.8 254.3,283.8 254.7,281.5 255.0,280.5 255.3,277.8 255.7,274.1 256.0,267.4 256.4,274.8 256.7,280.0 257.0,280.8 257.4,281.3 257.8,282.1 258.1,284.8 258.4,284.1 258.7,283.6 259.0,283.7 259.3,283.9 259.7,284.6 260.0,285.7 260.3,282.8 260.7,279.7 261.0,275.8 261.4,278.0 261.7,282.4 262.0,284.2 262.4,284.4 262.7,283.5 262.9,285.1 263.2,284.3 263.5,284.4 263.7,284.5 264.0,284.3 264.3,284.4 264.7,285.4 265.0,285.6 265.3,286.2 265.7,285.6 266.0,286.0 266.3,285.2 266.7,285.7 267.0,285.0 267.3,283.7 267.7,282.5 268.0,282.4 268.3,282.4 268.6,282.3 269.0,282.8 269.3,284.5 269.6,282.3 270.0,281.3 270.4,279.8 270.7,279.6 271.0,275.9 271.4,275.5 271.8,279.6 272.1,281.4 272.4,280.3 272.6,279.3 272.9,277.5 273.2,278.0 273.6,280.0 274.0,279.7 274.3,277.5 274.6,280.1 275.0,279.5 275.4,279.8 275.7,276.5 276.0,276.1 276.4,279.1 276.8,279.4 277.1,281.0 277.4,278.4 277.6,278.4 277.9,277.2 278.2,277.4 278.6,276.3 279.0,277.8 279.3,278.5 279.6,275.3 280.0,273.3 280.3,259.1 280.6,239.4 281.0,252.9 281.3,264.9 281.6,271.8 281.9,272.7 282.2,274.4 282.6,276.8 283.0,273.8 283.3,269.3 283.6,250.3 283.8,236.3 284.1,219.4 284.5,241.0 284.8,260.9 285.1,262.5 285.4,268.0 285.7,270.5 286.0,268.5 286.4,271.0 286.7,267.4 287.0,264.3 287.4,250.2 287.7,234.8 288.0,248.6 288.4,262.7 288.7,265.5 289.0,272.6 289.4,275.0 289.7,280.0 290.0,277.1 290.3,275.1 290.6,270.4 290.8,263.4 291.1,258.2 291.5,265.5 291.8,276.4 292.1,276.9 292.5,278.7 292.9,280.0 293.2,282.4 293.5,279.6 293.9,278.9 294.2,280.3 294.5,281.2 294.8,279.2 295.0,277.4 295.4,278.6 295.7,281.0 296.0,280.1 296.4,281.8 296.8,282.7 297.1,281.5 297.4,281.0 297.6,281.7 297.9,283.1 298.2,281.3 298.6,280.5 299.0,283.0 299.3,284.1 299.6,283.6 300.0,281.0 300.4,284.1 300.7,286.1 301.0,284.3 301.4,283.4 301.7,284.7 302.0,284.8 302.3,282.4 302.6,281.9 303.0,277.1 303.3,275.1 303.6,276.8 304.0,281.4 304.4,282.6 304.7,283.4 305.0,283.3 305.4,282.9 305.7,279.3 306.1,276.9 306.4,270.8 306.8,275.7 307.1,278.1 307.4,280.3 307.6,280.1 307.9,282.4 308.2,283.7 308.6,283.3 309.0,283.9 309.3,282.8 309.6,284.8 310.0,285.6 310.3,284.4 310.7,284.8 311.0,283.8 311.3,284.0 311.7,284.2 312.0,284.3 312.3,282.5 312.6,282.4 312.9,280.5 313.2,280.5 313.6,278.6 314.0,281.0 314.3,281.8 314.6,278.4 315.0,276.3 315.3,268.0 315.6,254.4 315.9,247.2 316.2,252.0 316.6,254.6 316.9,250.1 317.1,251.3 317.4,251.3 317.6,254.9 317.9,260.3 318.2,264.4 318.6,266.8 319.0,271.8 319.3,271.0 319.6,272.7 320.0,274.7 320.4,277.8 320.7,279.7 321.0,277.9 321.4,275.3 321.8,278.1 322.1,278.0 322.4,279.2 322.6,278.0 322.9,276.1 323.2,277.6 323.6,280.3 324.0,277.3 324.3,277.2 324.6,277.5 325.0,274.4 325.4,271.8 325.7,271.6 326.0,262.5 326.4,250.3 326.6,249.8 326.9,244.9 327.2,248.7 327.5,256.4 327.9,259.1 328.2,265.6 328.5,268.6 328.9,272.5 329.2,275.5 329.6,275.0 330.0,279.0 330.3,280.3 330.6,282.2 331.0,281.3 331.4,281.8 331.7,283.3 332.0,282.9 332.4,281.8 332.7,282.2 332.9,280.2 333.2,280.0 333.5,275.9 333.9,271.2 334.2,274.2 334.6,279.8 335.0,281.9 335.3,282.0 335.6,282.4 336.0,283.0 336.4,282.7 336.7,282.5 337.0,274.6 337.4,265.2 337.8,271.2 338.1,279.2 338.5,282.0 338.8,283.1 339.1,283.0 339.5,283.0 339.9,282.4 340.2,282.1 340.5,283.3 340.7,283.8 341.0,284.2 341.2,283.4 341.5,281.8 341.9,284.2 342.2,285.2 342.5,285.7 342.7,285.2 343.0,285.3 343.3,285.1 343.7,285.0 344.0,283.9 344.3,282.2 344.7,282.7 345.0,281.6 345.4,282.5 345.7,283.3 346.0,283.2 346.2,282.8 346.5,283.7 346.8,282.8 347.2,283.2 347.5,282.1 347.8,282.8 348.0,281.6 348.3,283.1 348.5,282.9 348.8,282.7 349.1,283.1 349.5,281.8 349.8,281.1 350.0,277.2 350.3,276.8 350.6,276.0 351.0,273.4 351.2,276.3 351.5,275.6 351.8,272.3 352.1,266.0 352.4,262.5 352.7,261.6 353.0,252.6 353.3,241.2 353.6,250.2 354.0,260.5 354.3,264.0 354.6,268.4 354.9,271.8 355.2,272.3 355.5,276.1 355.8,278.3 356.1,275.5 356.4,275.6 356.8,277.9 357.1,279.2 357.4,275.3 357.6,273.7 357.9,273.0 358.2,276.1 358.6,276.1 359.0,276.5 359.3,272.9 359.6,267.5 360.0,265.1 360.4,268.5 360.7,268.7 361.0,269.6 361.4,274.2 361.8,276.3 362.1,278.5 362.4,279.5 362.6,280.3 362.9,282.8 363.2,283.4 363.6,284.4 364.0,284.6 364.3,284.7 364.6,285.1 365.0,284.4 365.4,283.1 365.7,283.3 366.0,278.6 366.4,275.3 366.8,267.3 367.1,265.2 367.5,253.7 367.8,245.7 368.1,254.7 368.5,266.4 368.9,272.9 369.2,275.7 369.5,279.2 369.9,279.4 370.2,281.2 370.5,284.4 370.9,282.6 371.2,281.0 371.6,265.7 372.0,276.1 372.4,260.3 372.8,273.0 373.2,254.0 373.6,270.7 374.0,250.3 374.2,258.6 374.5,266.6 374.9,244.6 375.3,265.9 375.7,243.9 376.0,238.7 376.4,261.1 376.8,240.4 377.1,240.4 377.3,240.5 377.7,264.3 378.1,256.4 378.4,266.7 378.6,271.5 379.0,264.2 379.2,271.9 379.5,274.1 379.8,274.4 380.0,278.6 380.4,279.0 380.7,280.0 381.0,280.1 381.4,279.9 381.7,281.1 382.0,281.4 382.3,281.6 382.5,282.5 382.8,281.9 383.1,280.1 383.3,280.4 383.6,279.8 383.9,279.5 384.1,275.4 384.4,273.7 384.7,273.7 385.0,276.8 385.4,278.9 385.8,278.5 386.1,280.4 386.5,281.6 386.8,282.6 387.1,281.8 387.5,282.7 387.8,274.0 388.1,267.0 388.3,262.4 388.6,253.4 389.0,263.5 389.3,272.2 389.6,276.2 390.0,279.2 390.4,280.4 390.7,280.8 391.0,274.6 391.4,269.4 391.8,276.3 392.1,278.4 392.4,280.1 392.6,281.5 392.9,282.6 393.2,282.9 393.6,284.7 394.0,283.4 394.3,283.0 394.6,284.1 395.0,284.9 395.3,282.1 395.6,276.8 395.9,267.6 396.1,255.9 396.5,260.4 396.8,270.3 397.1,274.8 397.5,276.1 397.9,278.2 398.2,282.2 398.5,281.1 398.9,279.4 399.2,273.7 399.6,270.9 400.0,274.3 400.3,281.4 400.6,283.4 401.0,284.2 401.4,283.5 401.7,282.8 402.0,283.3 402.4,283.3 402.8,280.2 403.1,275.8 403.5,278.5 403.8,280.5 404.1,282.2 404.5,284.2 404.9,283.2 405.2,282.8 405.5,284.3 405.9,285.6 406.2,284.7 406.6,284.5 407.0,283.0 407.3,282.4 407.6,281.5 407.9,278.9 408.2,276.7 408.6,275.6 409.0,278.9 409.3,280.6 409.6,281.4 410.0,281.1 410.4,279.9 410.7,279.0 411.0,280.3 411.4,279.8 411.7,274.7 412.0,271.2 412.4,249.6 412.7,233.9 413.0,250.6 413.3,263.0 413.6,270.7 413.8,275.3 414.1,270.9 414.3,263.7 414.6,271.6 414.9,274.5 415.2,264.7 415.5,256.1 415.8,253.0 416.0,250.7 416.4,229.4 416.7,245.1 417.0,259.4 417.3,269.2 417.6,274.5 417.9,271.1 418.2,270.2 418.5,275.9 418.8,279.1 419.1,275.4 419.4,266.9 419.7,269.9 420.0,275.8 420.3,269.0 420.6,267.7 420.9,268.8 421.2,273.9 421.5,258.1 421.8,240.6 422.1,252.8 422.4,268.4 422.7,276.7 423.0,280.7 423.3,273.8 423.6,270.6 423.9,277.5 424.2,280.9 424.5,276.3 424.8,272.9 425.1,272.4 425.4,266.8 425.7,253.8 426.0,242.7 426.3,253.1 426.6,268.1 426.9,275.2 427.2,280.6 427.5,275.8 427.8,272.7 428.1,277.4 428.4,278.1 428.8,262.9 429.1,243.9 429.4,253.8 429.7,266.7 429.9,270.6 430.2,274.6 430.6,277.2 431.0,280.0 431.4,281.1 431.7,281.8 432.0,283.6 432.4,284.2 432.8,284.4 433.1,285.3 433.4,285.8 433.7,286.0 434.0,286.4 434.3,286.4 434.7,286.3 435.0,286.2 435.4,285.7 435.7,285.4 436.0,283.0 436.3,281.1 436.6,278.2 436.9,276.0 437.2,264.0 437.5,246.3 437.8,231.2 438.1,245.3 438.5,264.2 438.9,271.6 439.2,280.1 439.5,280.0 439.7,278.8 440.0,277.2 440.4,278.8 440.7,283.0 441.0,283.4 441.4,284.1 441.8,284.4 442.1,284.9 442.4,285.7 442.6,285.3 442.9,285.9 443.2,286.7 443.6,286.7 444.0,283.7 444.3,279.4 444.6,275.0 445.0,274.4 445.4,272.4 445.7,270.4 446.0,258.9 446.4,247.0 446.8,258.1 447.1,267.6 447.5,271.1 447.8,269.8 448.1,271.3 448.5,275.9 448.8,272.4 449.0,261.9 449.3,259.3 449.6,266.8 450.0,270.3 450.4,273.9 450.7,279.7 451.0,275.1 451.4,274.3 451.8,279.3 452.1,282.0 452.4,283.4 452.6,282.9 452.9,282.9 453.2,279.9 453.5,274.9 453.8,249.2 454.0,224.8 454.3,218.9 454.6,216.0 454.9,218.8 455.1,219.7 455.4,242.6 455.7,261.8 456.0,262.1 456.4,265.1 456.8,262.2 457.1,260.9 457.5,265.5 457.8,272.8 458.1,272.6 458.3,276.5 458.6,275.8 459.0,269.9 459.3,269.3 459.6,248.5 460.0,233.5 460.4,251.0 460.7,272.4 461.0,275.2 461.4,275.1 461.8,278.2 462.1,280.8 462.4,282.3 462.6,283.0 462.9,283.4 463.2,285.6 463.6,286.6 464.0,286.4 464.3,286.1 464.6,285.8 465.0,286.4 465.4,282.4 465.7,280.0 466.0,275.6 466.4,272.0 466.8,260.7 467.1,254.1 467.5,259.0 467.8,266.1 468.1,267.6 468.3,274.5 468.6,274.6 469.0,278.4 469.3,278.2 469.6,277.6 470.0,275.6 470.4,278.5 470.7,281.8 471.0,278.8 471.4,276.3 471.8,277.4 472.1,281.5 472.4,279.7 472.6,276.8 472.9,276.5 473.2,273.5 473.6,270.1 473.9,261.5 474.2,248.4 474.5,238.5 474.9,256.4 475.2,271.8 475.5,275.9 475.9,276.9 476.2,280.1 476.6,280.5 477.0,277.7 477.3,275.5 477.6,275.1 478.0,276.9 478.3,275.5 478.6,270.2 479.0,272.1 479.3,274.1 479.6,271.2 480.0,270.7 480.3,260.8 480.6,250.8 480.9,237.5 481.2,256.8 481.6,270.4 482.0,272.9 482.3,276.7 482.6,277.1 483.0,279.2 483.3,276.0 483.6,274.7 484.0,270.7 484.3,269.0 484.6,270.8 485.0,275.8 485.4,278.5 485.7,277.9 486.0,276.9 486.4,274.7 486.8,269.1 487.1,268.6 487.5,258.9 487.8,254.0 488.1,244.8 488.5,239.4 488.8,245.8 489.0,245.7 489.3,250.2 489.6,259.7 490.0,265.5 490.4,266.5 490.7,270.8 491.0,271.8 491.4,276.0 491.8,278.8 492.1,278.2 492.4,278.1 492.6,280.7 492.9,282.0 493.2,282.7 493.6,283.2 494.0,282.9 494.3,283.3 494.6,284.7 495.0,285.3 495.4,277.0 495.7,265.5 496.0,271.1 496.4,279.7 496.8,280.8 497.1,282.8 497.4,282.9 497.6,283.0 497.9,283.1 498.2,283.4 498.6,283.2 499.0,284.5 499.3,284.8 499.6,281.0 500.0,278.1 500.4,281.0 500.7,281.1 501.0,275.4 501.4,270.1 501.8,240.8 502.1,217.2 502.5,238.7 502.8,261.1 503.1,264.6 503.3,265.8 503.6,270.9 504.0,275.4 504.3,275.9 504.6,275.2 505.0,273.5 505.4,275.2 505.7,276.8 506.0,272.6 506.4,270.6 506.8,271.0 507.1,275.4 507.4,275.8 507.6,278.5 507.9,279.3 508.2,281.5 508.6,282.7 509.0,282.0 509.3,280.3 509.6,276.9 510.0,276.9 510.4,276.0 510.7,272.5 511.0,269.3 511.4,263.8 511.8,268.0 512.1,270.1 512.4,271.8 512.6,275.1 512.9,274.9 513.2,279.9 513.6,281.5 514.0,281.3 514.3,280.6 514.6,279.9 515.0,279.7 515.4,280.6 515.7,281.3 516.0,280.6 516.4,278.1 516.8,276.5 517.1,273.4 517.5,276.3 517.8,276.5 518.1,259.9 518.5,246.3 518.8,230.2 519.1,246.2 519.5,265.4 519.8,270.2 520.1,274.0 520.4,275.4 520.7,280.7 521.0,278.3 521.4,275.6 521.8,271.9 522.1,265.4 522.5,263.6 522.8,256.9 523.1,236.4 523.5,216.2 523.9,238.5 524.2,256.3 524.5,261.5 524.9,270.3 525.2,265.7 525.4,267.4 525.7,265.5 526.0,257.1 526.2,249.9 526.5,243.6 526.8,235.5 527.1,255.1 527.5,271.7 527.9,277.1 528.2,279.2 528.5,280.1 528.9,282.0 529.2,282.6 529.6,282.9 530.0,282.2 530.3,280.8 530.6,282.4 531.0,283.1 531.4,284.3 531.7,285.2 532.0,283.8 532.4,282.5 532.7,282.6 533.0,281.1 533.3,269.7 533.6,263.6 534.0,271.7 534.3,276.4 534.6,277.6 535.0,281.0 535.4,280.9 535.7,282.3 536.0,283.7 536.4,284.3 536.8,283.1 537.1,282.0 537.4,282.8 537.6,283.4 537.9,285.2 538.2,281.1 538.6,279.0 539.0,279.7 539.3,281.7 539.6,277.0 540.0,275.2 540.4,269.8 540.7,262.1 541.0,267.4 541.4,276.4 541.8,277.9 542.1,280.3 542.5,281.6 542.8,283.3 543.1,283.1 543.3,282.7 543.6,281.2 544.0,280.7 544.3,279.3" stroke="#ff0000" stroke-width="1.80" stroke-dasharray="4.5 1.6"/>
</g>
<rect x="45.50" y="180.50" width="498.50" height="109.85" fill="none" stroke="#222222" stroke-width="1.30"/>
<line x1="42.00" y1="260.10" x2="45.50" y2="260.10" stroke="#222222" stroke-width="1"/>
<text x="37.6" y="263.70" text-anchor="end" class="tk">100</text>
<line x1="42.00" y1="225.40" x2="45.50" y2="225.40" stroke="#222222" stroke-width="1"/>
<text x="37.6" y="229.00" text-anchor="end" class="tk">200</text>
<line x1="42.00" y1="190.80" x2="45.50" y2="190.80" stroke="#222222" stroke-width="1"/>
<text x="37.6" y="194.40" text-anchor="end" class="tk">300</text>
<line x1="111.35" y1="290.35" x2="111.35" y2="293.85" stroke="#222222" stroke-width="1"/>
<text x="111.35" y="304.75" text-anchor="middle" class="tk">2008</text>
<line x1="177.90" y1="290.35" x2="177.90" y2="293.85" stroke="#222222" stroke-width="1"/>
<text x="177.90" y="304.75" text-anchor="middle" class="tk">2010</text>
<line x1="244.45" y1="290.35" x2="244.45" y2="293.85" stroke="#222222" stroke-width="1"/>
<text x="244.45" y="304.75" text-anchor="middle" class="tk">2012</text>
<line x1="311.00" y1="290.35" x2="311.00" y2="293.85" stroke="#222222" stroke-width="1"/>
<text x="311.00" y="304.75" text-anchor="middle" class="tk">2014</text>
<line x1="377.55" y1="290.35" x2="377.55" y2="293.85" stroke="#222222" stroke-width="1"/>
<text x="377.55" y="304.75" text-anchor="middle" class="tk">2016</text>
<line x1="444.10" y1="290.35" x2="444.10" y2="293.85" stroke="#222222" stroke-width="1"/>
<text x="444.10" y="304.75" text-anchor="middle" class="tk">2018</text>
<line x1="510.65" y1="290.35" x2="510.65" y2="293.85" stroke="#222222" stroke-width="1"/>
<text x="510.65" y="304.75" text-anchor="middle" class="tk">2020</text>
<text transform="translate(14.6,235.70) rotate(-90)" text-anchor="middle" class="lab">Discharge (Cfs)</text>
<text x="294.7" y="318.20" text-anchor="middle" class="lab">year</text>
<rect x="50.60" y="185.70" width="153.90" height="12.40" rx="1.2" fill="#8a8a8a" opacity="0.85"/>
<rect x="48.60" y="183.40" width="153.90" height="12.40" rx="1.2" fill="#fff" stroke="#d0d0d0" stroke-width="0.8"/>
<line x1="50.8" y1="189.10" x2="64.6" y2="189.10" stroke="#1a1a1a" stroke-width="1.2"/>
<text x="70" y="191.85" class="lg">Observed flow</text>
<line x1="131.5" y1="189.20" x2="144.6" y2="189.20" stroke="#e00000" stroke-width="1.8" stroke-dasharray="5.1 2.9"/>
<text x="150.5" y="191.85" class="lg">Forcasted flow</text>
<text x="67.3" y="209.90" class="tag" textLength="27.4" lengthAdjust="spacingAndGlyphs">(SVM)</text>
<text x="276" y="342.50" text-anchor="middle" class="cap">(<tspan font-weight="bold">b</tspan>)</text>
</g>
</svg>
</body></html>
